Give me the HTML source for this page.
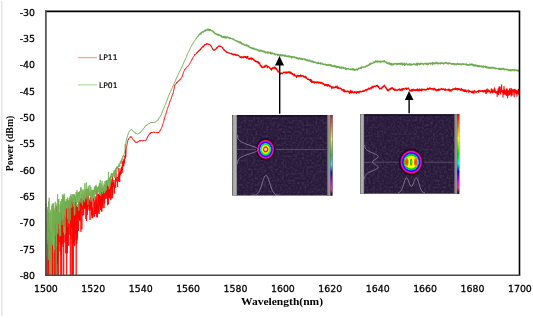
<!DOCTYPE html>
<html><head><meta charset="utf-8"><style>
html,body{margin:0;padding:0;background:#fff;}
svg{display:block;}
.t{font-family:"DejaVu Sans","Liberation Sans",sans-serif;font-size:9.4px;fill:#000;stroke:#000;stroke-width:0.28px;}
.lg{font-family:"DejaVu Sans","Liberation Sans",sans-serif;font-size:7.6px;fill:#000;stroke:#000;stroke-width:0.2px;}
.ti{font-family:"Liberation Serif",serif;font-size:10.5px;font-weight:bold;fill:#000;}
</style></head><body>
<svg width="533" height="318" viewBox="0 0 533 318">
<defs>
<linearGradient id="cb" x1="0" y1="0" x2="0" y2="1">
<stop offset="0" stop-color="#ff0000"/><stop offset="0.15" stop-color="#ff7a00"/><stop offset="0.3" stop-color="#ffff00"/>
<stop offset="0.5" stop-color="#00dd00"/><stop offset="0.62" stop-color="#00ffff"/><stop offset="0.72" stop-color="#0000ff"/>
<stop offset="0.87" stop-color="#ff00ff"/><stop offset="0.92" stop-color="#ff3070"/><stop offset="1" stop-color="#200010"/>
</linearGradient>
<linearGradient id="gb" x1="0" y1="0" x2="1" y2="0">
<stop offset="0" stop-color="#585858"/><stop offset="0.22" stop-color="#a8a8a8"/><stop offset="0.7" stop-color="#b0b2b0"/><stop offset="0.88" stop-color="#8a8a8a"/><stop offset="1" stop-color="#403550"/>
</linearGradient>
<linearGradient id="gb2" x1="0" y1="0" x2="1" y2="0">
<stop offset="0" stop-color="#3a3050"/><stop offset="0.3" stop-color="#8a8a8a"/><stop offset="1" stop-color="#9a9a9a"/>
</linearGradient>
<radialGradient id="sp1" cx="0.5" cy="0.5" r="0.5"><stop offset="0.000" stop-color="#ffffff"/><stop offset="0.078" stop-color="#ffffff"/><stop offset="0.146" stop-color="#ff5050"/><stop offset="0.204" stop-color="#ff2000"/><stop offset="0.262" stop-color="#ffa000"/><stop offset="0.320" stop-color="#ffff00"/><stop offset="0.388" stop-color="#60ff00"/><stop offset="0.456" stop-color="#00e000"/><stop offset="0.495" stop-color="#00e0e0"/><stop offset="0.544" stop-color="#0050ff"/><stop offset="0.602" stop-color="#2000ff"/><stop offset="0.660" stop-color="#b000ff"/><stop offset="0.709" stop-color="#ff00c0"/><stop offset="0.748" stop-color="#ff2080"/><stop offset="0.796" stop-color="#701040"/><stop offset="0.864" stop-color="#1c0a22"/><stop offset="0.932" stop-color="#1e0c28" stop-opacity="0.8"/><stop offset="1.000" stop-color="#28183b" stop-opacity="0"/></radialGradient>
<radialGradient id="sp2" cx="0.5" cy="0.5" r="0.5"><stop offset="0.000" stop-color="#ffff00"/><stop offset="0.369" stop-color="#ffff00"/><stop offset="0.431" stop-color="#c0ff00"/><stop offset="0.477" stop-color="#00e000"/><stop offset="0.538" stop-color="#00d000"/><stop offset="0.569" stop-color="#00c0e0"/><stop offset="0.608" stop-color="#0030ff"/><stop offset="0.662" stop-color="#2000ff"/><stop offset="0.700" stop-color="#a000ff"/><stop offset="0.738" stop-color="#ff00d0"/><stop offset="0.777" stop-color="#ff1080"/><stop offset="0.815" stop-color="#801040"/><stop offset="0.877" stop-color="#1a0820"/><stop offset="0.938" stop-color="#1e0c28" stop-opacity="0.8"/><stop offset="1.000" stop-color="#28183b" stop-opacity="0"/></radialGradient>
<radialGradient id="lobe" cx="0.5" cy="0.5" r="0.5"><stop offset="0" stop-color="#ff3800"/><stop offset="0.45" stop-color="#ff5000"/><stop offset="0.75" stop-color="#ffa000"/><stop offset="1" stop-color="#ffe000" stop-opacity="0"/></radialGradient>
<radialGradient id="ctr" cx="0.5" cy="0.5" r="0.5"><stop offset="0" stop-color="#00ffe0"/><stop offset="0.35" stop-color="#00e080"/><stop offset="0.7" stop-color="#00d000"/><stop offset="1" stop-color="#80e000" stop-opacity="0.3"/></radialGradient>
<filter id="bl" x="-50%" y="-50%" width="200%" height="200%"><feGaussianBlur stdDeviation="0.55"/></filter>
<filter id="nz" x="0" y="0" width="100%" height="100%" color-interpolation-filters="sRGB">
<feTurbulence type="fractalNoise" baseFrequency="0.45" numOctaves="2" seed="4"/>
<feColorMatrix type="matrix" values="0 0 0 0 0.36  0 0 0 0 0.33  0 0 0 0 0.38  1.0 0 0 0 -0.4"/>
</filter>
</defs>
<rect x="1" y="1" width="1.6" height="315" fill="#e6e6e6"/>
<g class="t"><text x="35" y="15.6" text-anchor="end">-30</text><text x="35" y="41.9" text-anchor="end">-35</text><text x="35" y="68.3" text-anchor="end">-40</text><text x="35" y="94.6" text-anchor="end">-45</text><text x="35" y="120.9" text-anchor="end">-50</text><text x="35" y="147.2" text-anchor="end">-55</text><text x="35" y="173.6" text-anchor="end">-60</text><text x="35" y="199.9" text-anchor="end">-65</text><text x="35" y="226.2" text-anchor="end">-70</text><text x="35" y="252.6" text-anchor="end">-75</text><text x="35" y="278.9" text-anchor="end">-80</text><text x="45.9" y="291.5" text-anchor="middle">1500</text><text x="93.3" y="291.5" text-anchor="middle">1520</text><text x="140.7" y="291.5" text-anchor="middle">1540</text><text x="188.1" y="291.5" text-anchor="middle">1560</text><text x="235.5" y="291.5" text-anchor="middle">1580</text><text x="282.9" y="291.5" text-anchor="middle">1600</text><text x="330.3" y="291.5" text-anchor="middle">1620</text><text x="377.7" y="291.5" text-anchor="middle">1640</text><text x="425.1" y="291.5" text-anchor="middle">1660</text><text x="472.5" y="291.5" text-anchor="middle">1680</text><text x="519.9" y="291.5" text-anchor="middle">1700</text></g>
<text class="ti" x="241" y="305.3" textLength="82" lengthAdjust="spacingAndGlyphs">Wavelength(nm)</text>
<text class="ti" transform="translate(12.9,171.2) rotate(-90)" textLength="55.5" lengthAdjust="spacingAndGlyphs">Power (dBm)</text>
<path d="M45.80,275.00 45.94,275.00 46.08,230.90 46.22,227.12 46.36,275.00 46.50,275.00 46.64,275.00 46.78,275.00 46.92,275.00 47.06,227.37 47.20,275.00 47.34,275.00 47.48,275.00 47.62,275.00 47.76,275.00 47.90,222.66 48.04,242.54 48.18,275.00 48.32,275.00 48.46,275.00 48.60,275.00 48.74,212.92 48.88,275.00 49.02,275.00 49.16,228.85 49.30,261.71 49.44,275.00 49.58,262.97 49.72,275.00 49.86,271.04 50.00,265.65 50.14,232.36 50.28,275.00 50.42,258.32 50.56,275.00 50.70,275.00 50.84,275.00 50.98,242.88 51.12,275.00 51.26,240.11 51.40,275.00 51.54,275.00 51.68,275.00 51.82,245.87 51.96,275.00 52.10,275.00 52.24,275.00 52.38,239.84 52.52,275.00 52.66,246.60 52.80,275.00 52.94,275.00 53.08,275.00 53.22,275.00 53.36,275.00 53.50,275.00 53.64,275.00 53.78,275.00 53.92,274.93 54.06,253.07 54.20,259.36 54.34,274.59 54.48,275.00 54.62,275.00 54.76,241.40 54.90,275.00 55.04,211.41 55.18,215.17 55.32,275.00 55.46,275.00 55.60,232.88 55.74,275.00 55.88,225.09 56.02,236.13 56.16,266.85 56.30,206.23 56.44,275.00 56.58,275.00 56.72,275.00 56.86,275.00 57.00,213.35 57.14,275.00 57.28,217.03 57.42,263.58 57.56,245.99 57.70,222.09 57.84,258.49 57.98,234.34 58.12,231.59 58.26,232.97 58.40,275.00 58.54,223.20 58.68,212.53 58.82,227.56 58.96,239.42 59.10,242.12 59.24,229.51 59.38,222.40 59.52,224.41 59.66,228.62 59.80,212.09 59.94,235.85 60.08,251.57 60.22,219.07 60.36,244.46 60.50,231.15 60.64,229.15 60.78,275.00 60.92,233.98 61.06,210.85 61.20,219.25 61.34,234.66 61.48,254.68 61.62,213.88 61.76,275.00 61.90,221.94 62.04,231.64 62.18,226.41 62.32,228.57 62.46,243.62 62.60,216.41 62.74,242.07 62.88,225.89 63.02,247.00 63.16,237.81 63.30,225.66 63.44,222.84 63.58,217.37 63.72,275.00 63.86,234.73 64.00,241.15 64.14,242.44 64.28,207.42 64.42,206.74 64.56,215.44 64.70,224.20 64.84,226.50 64.98,211.69 65.12,203.14 65.26,214.26 65.40,212.39 65.54,209.06 65.68,253.56 65.82,204.08 65.96,241.68 66.10,222.57 66.24,218.70 66.38,236.97 66.52,208.49 66.66,275.00 66.80,244.01 66.94,223.63 67.08,253.57 67.22,226.96 67.36,252.87 67.50,242.80 67.64,230.09 67.78,210.11 67.92,200.86 68.06,224.14 68.20,205.45 68.34,207.25 68.48,245.66 68.62,243.85 68.76,207.39 68.90,215.92 69.04,230.00 69.18,234.80 69.32,215.13 69.46,215.80 69.60,220.47 69.74,204.73 69.88,221.52 70.02,206.17 70.16,197.96 70.30,275.00 70.44,237.96 70.58,207.72 70.72,210.97 70.86,238.95 71.00,220.41 71.14,218.24 71.28,201.16 71.42,209.22 71.56,227.26 71.70,219.91 71.84,198.71 71.98,275.00 72.12,216.42 72.26,275.00 72.40,275.00 72.54,202.34 72.68,209.27 72.82,228.47 72.96,206.34 73.10,217.00 73.24,206.63 73.38,275.00 73.52,223.13 73.66,241.96 73.80,217.54 73.94,242.46 74.08,198.76 74.22,215.07 74.36,223.82 74.50,210.43 74.64,246.16 74.78,203.53 74.92,210.88 75.06,240.42 75.20,197.42 75.34,208.88 75.48,228.58 75.62,233.84 75.76,201.32 75.90,209.99 76.04,214.89 76.18,275.00 76.32,238.60 76.46,202.47 76.60,211.65 76.74,243.74 76.88,223.45 77.02,240.08 77.16,208.78 77.30,207.23 77.44,235.70 77.58,238.23 77.72,207.60 77.86,216.87 78.00,204.79 78.14,204.14 78.28,206.97 78.42,230.95 78.56,213.44 78.70,208.61 78.84,201.63 78.98,204.09 79.12,208.99 79.26,212.12 79.40,219.71 79.54,200.89 79.68,209.82 79.82,220.53 79.96,202.19 80.10,221.31 80.24,198.19 80.38,201.55 80.52,210.45 80.66,206.42 80.80,202.10 80.94,231.87 81.08,203.75 81.22,206.75 81.36,201.97 81.50,197.80 81.64,204.79 81.78,204.15 81.92,229.35 82.06,201.08 82.20,207.29 82.34,199.91 82.48,199.30 82.62,201.81 82.76,215.70 82.90,205.07 83.04,208.13 83.18,209.30 83.32,199.00 83.46,205.95 83.60,201.53 83.74,214.96 83.88,200.40 84.02,206.38 84.16,208.88 84.30,206.34 84.44,207.03 84.58,205.54 84.72,203.31 84.86,205.40 85.00,196.54 85.14,208.57 85.28,200.45 85.42,207.06 85.56,201.43 85.70,200.45 85.84,219.09 85.98,197.97 86.12,209.79 86.26,193.90 86.40,198.76 86.54,221.05 86.68,205.25 86.82,206.40 86.96,209.32 87.10,197.72 87.24,202.70 87.38,214.77 87.52,206.25 87.66,207.08 87.80,196.23 87.94,210.42 88.08,191.85 88.22,198.80 88.36,200.23 88.50,205.65 88.64,197.37 88.78,197.92 88.92,200.94 89.06,207.82 89.20,208.88 89.34,207.76 89.48,207.90 89.62,200.40 89.76,210.73 89.90,205.30 90.04,219.95 90.18,203.20 90.32,198.56 90.46,209.45 90.60,202.86 90.74,196.63 90.88,206.82 91.02,203.81 91.16,203.11 91.30,202.41 91.44,202.34 91.58,200.26 91.72,215.33 91.86,197.61 92.00,218.35 92.14,207.10 92.28,214.18 92.42,217.92 92.56,208.76 92.70,216.00 92.84,211.95 92.98,217.09 93.12,209.19 93.26,201.32 93.40,199.41 93.54,200.93 93.68,197.70 93.82,198.11 93.96,203.39 94.10,214.94 94.24,200.45 94.38,201.14 94.52,216.65 94.66,205.70 94.80,210.01 94.94,203.42 95.08,213.55 95.22,208.77 95.36,213.86 95.50,201.73 95.64,198.21 95.78,196.43 95.92,210.09 96.06,210.78 96.20,206.92 96.34,198.78 96.48,213.17 96.62,211.12 96.76,216.89 96.90,188.92 97.04,210.69 97.18,203.62 97.32,217.47 97.46,206.36 97.60,204.53 97.74,212.82 97.88,196.65 98.02,193.59 98.16,203.09 98.30,213.24 98.44,194.82 98.58,197.82 98.72,203.15 98.86,194.23 99.00,196.29 99.14,213.89 99.28,194.56 99.42,206.11 99.56,196.54 99.70,188.69 99.84,199.01 99.98,199.15 100.12,203.28 100.26,199.07 100.40,193.47 100.54,210.10 100.68,198.32 100.82,194.90 100.96,198.55 101.10,208.95 101.24,197.07 101.38,189.53 101.52,211.46 101.66,194.53 101.80,211.54 101.94,202.52 102.08,206.84 102.22,188.28 102.36,204.65 102.50,198.51 102.64,198.88 102.78,188.91 102.92,208.14 103.06,191.10 103.20,198.88 103.34,201.25 103.48,199.53 103.62,197.31 103.76,190.71 103.90,193.87 104.04,208.20 104.18,190.28 104.32,191.08 104.46,203.26 104.60,203.09 104.74,202.87 104.88,194.23 105.02,198.34 105.16,197.55 105.30,198.76 105.44,194.08 105.58,194.18 105.72,188.88 105.86,193.21 106.00,189.85 106.14,196.28 106.28,190.47 106.42,198.35 106.56,194.26 106.70,184.81 106.84,192.55 106.98,197.61 107.12,192.97 107.26,198.34 107.40,194.39 107.54,205.23 107.68,183.51 107.82,198.87 107.96,189.25 108.10,187.16 108.24,188.18 108.38,192.31 108.52,204.29 108.66,192.23 108.80,185.94 108.94,186.46 109.08,192.21 109.22,193.46 109.36,189.51 109.50,197.59 109.64,189.24 109.78,192.36 109.92,194.32 110.06,197.98 110.20,198.72 110.34,182.31 110.48,183.77 110.62,187.26 110.76,200.18 110.90,186.22 111.04,194.55 111.18,198.39 111.32,185.20 111.46,184.58 111.60,188.48 111.74,179.31 111.88,187.49 112.02,188.71 112.16,182.76 112.30,198.18 112.44,176.53 112.58,182.53 112.72,194.70 112.86,186.31 113.00,187.30 113.14,182.87 113.28,186.55 113.42,185.41 113.56,182.64 113.70,185.97 113.84,184.71 113.98,179.94 114.12,186.36 114.26,185.21 114.40,193.50 114.54,185.89 114.68,185.71 114.82,186.45 114.96,184.61 115.10,185.55 115.24,181.86 115.38,182.44 115.52,178.06 115.66,187.90 115.80,182.30 115.94,172.19 116.08,176.27 116.22,180.65 116.36,180.91 116.50,181.36 116.64,179.17 116.78,180.33 116.92,178.80 117.06,176.99 117.20,178.10 117.34,178.12 117.48,179.25 117.62,187.05 117.76,178.62 117.90,177.13 118.04,178.01 118.18,175.49 118.32,174.49 118.46,176.36 118.60,178.88 118.74,181.48 118.88,168.09 119.02,172.94 119.16,175.19 119.30,181.30 119.44,172.98 119.58,173.28 119.72,181.99 119.86,171.36 120.00,171.83 120.14,175.40 120.28,172.15 120.42,174.29 120.56,170.58 120.70,172.08 120.84,170.55 120.98,168.57 121.12,170.24 121.26,173.83 121.40,167.34 121.54,170.79 121.68,166.79 121.82,171.47 121.96,167.80 122.10,172.91 122.24,164.71 122.38,165.83 122.52,169.59 122.66,163.42 122.80,160.71 122.94,166.31 123.08,162.55 123.22,163.58 123.36,163.93 123.50,165.14 123.64,160.63 123.78,166.34 123.92,159.54 124.06,160.48 124.20,158.73 124.34,160.97 124.48,163.16 124.62,159.41 124.76,155.97 124.90,156.42 125.04,157.19 125.18,155.41 125.32,158.60 125.46,152.82 125.60,148.45 125.74,157.00 125.88,153.77" fill="none" stroke="#ff0000" stroke-width="0.8" stroke-linejoin="round"/>
<path d="M125.88,153.77 126.00,149.20 126.20,148.72 126.40,147.43 126.60,146.43 126.80,145.92 127.00,144.47 127.20,143.59 127.40,142.79 127.60,141.93 127.80,140.83 128.00,140.25 128.20,139.50 128.40,139.76 128.60,139.14 128.80,138.36 129.00,138.32 129.20,138.19 129.40,137.86 129.60,137.95 129.80,137.62 130.00,136.96 130.20,136.93 130.40,136.54 130.60,136.87 130.80,136.85 131.00,137.57 131.20,137.06 131.40,136.72 131.60,137.33 131.80,137.81 132.00,137.77 132.20,138.18 132.40,138.62 132.60,139.09 132.80,139.23 133.00,139.28 133.20,139.91 133.40,139.81 133.60,140.05 133.80,140.07 134.00,140.46 134.20,141.06 134.40,140.73 134.60,141.34 134.80,141.75 135.00,141.68 135.20,142.01 135.40,141.82 135.60,142.55 135.80,142.60 136.00,142.44 136.20,141.96 136.40,142.13 136.60,142.61 136.80,142.75 137.00,142.34 137.20,142.50 137.40,141.96 137.60,141.97 137.80,141.92 138.00,141.92 138.20,141.32 138.40,141.82 138.60,141.80 138.80,141.07 139.00,140.91 139.20,141.22 139.40,140.87 139.60,140.34 139.80,141.05 140.00,140.81 140.20,140.59 140.40,141.19 140.60,140.66 140.80,140.41 141.00,140.63 141.20,140.34 141.40,140.42 141.60,140.71 141.80,140.48 142.00,140.51 142.20,141.05 142.40,140.86 142.60,140.86 142.80,140.80 143.00,140.81 143.20,141.06 143.40,140.70 143.60,141.19 143.80,140.50 144.00,140.68 144.20,140.41 144.40,140.68 144.60,140.91 144.80,141.15 145.00,140.63 145.20,140.80 145.40,140.71 145.60,140.62 145.80,140.43 146.00,140.54 146.20,139.79 146.40,139.85 146.60,139.37 146.80,138.69 147.00,138.07 147.20,137.44 147.40,137.73 147.60,136.44 147.80,136.74 148.00,136.15 148.20,135.61 148.40,135.11 148.60,135.36 148.80,135.25 149.00,134.31 149.20,134.20 149.40,134.30 149.60,133.89 149.80,134.10 150.00,133.28 150.20,133.40 150.40,132.83 150.60,133.54 150.80,132.71 151.00,132.23 151.20,132.64 151.40,132.53 151.60,132.94 151.80,132.29 152.00,132.29 152.20,132.38 152.40,132.57 152.60,132.12 152.80,132.37 153.00,132.23 153.20,132.03 153.40,132.13 153.60,132.14 153.80,131.92 154.00,132.49 154.20,131.87 154.40,132.54 154.60,132.53 154.80,132.31 155.00,132.18 155.20,132.36 155.40,132.58 155.60,132.69 155.80,132.62 156.00,132.84 156.20,132.49 156.40,132.73 156.60,132.31 156.80,132.92 157.00,132.80 157.20,132.67 157.40,133.08 157.60,132.97 157.80,132.09 158.00,132.76 158.20,132.31 158.40,132.83 158.60,133.04 158.80,132.11 159.00,132.05 159.20,131.74 159.40,131.64 159.60,131.45 159.80,131.33 160.00,130.46 160.20,130.80 160.40,129.86 160.60,129.85 160.80,129.75 161.00,129.31 161.20,128.53 161.40,128.16 161.60,127.76 161.80,127.35 162.00,127.10 162.20,125.90 162.40,125.73 162.60,125.12 162.80,124.45 163.00,123.75 163.20,123.32 163.40,122.37 163.60,121.76 163.80,120.99 164.00,120.60 164.20,118.99 164.40,119.11 164.60,118.07 164.80,117.43 165.00,116.63 165.20,115.77 165.40,115.51 165.60,114.78 165.80,114.43 166.00,113.29 166.20,113.36 166.40,112.42 166.60,111.64 166.80,110.87 167.00,110.21 167.20,109.49 167.40,109.00 167.60,108.52 167.80,107.86 168.00,106.95 168.20,106.64 168.40,105.90 168.60,105.59 168.80,105.45 169.00,104.58 169.20,103.79 169.40,102.91 169.60,102.41 169.80,101.80 170.00,101.85 170.20,100.93 170.40,100.58 170.60,99.86 170.80,99.47 171.00,99.24 171.20,98.15 171.40,97.68 171.60,97.02 171.80,96.91 172.00,95.90 172.20,95.33 172.40,94.72 172.60,94.15 172.80,94.04 173.00,93.95 173.20,92.40 173.40,92.20 173.60,91.26 173.80,89.96 174.00,89.07 174.20,87.96 174.40,86.79 174.60,86.58 174.80,85.02 175.00,85.19 175.20,84.82 175.40,84.25 175.60,84.13 175.80,84.04 176.00,83.60 176.20,83.43 176.40,83.28 176.60,82.40 176.80,83.08 177.00,83.09 177.20,82.59 177.40,82.42 177.60,81.64 177.80,81.77 178.00,81.41 178.20,81.27 178.40,81.44 178.60,80.78 178.80,80.75 179.00,80.12 179.20,80.37 179.40,80.25 179.60,79.87 179.80,79.68 180.00,80.15 180.20,79.18 180.40,79.02 180.60,78.86 180.80,79.13 181.00,79.10 181.20,78.38 181.40,77.80 181.60,77.50 181.80,77.45 182.00,76.48 182.20,76.57 182.40,76.02 182.60,75.13 182.80,74.71 183.00,74.15 183.20,73.78 183.40,72.56 183.60,72.56 183.80,71.64 184.00,71.04 184.20,70.79 184.40,70.28 184.60,69.72 184.80,69.25 185.00,69.12 185.20,69.44 185.40,69.31 185.60,68.74 185.80,68.64 186.00,67.99 186.20,67.89 186.40,67.78 186.60,67.24 186.80,67.07 187.00,67.15 187.20,66.85 187.40,66.47 187.60,66.64 187.80,66.27 188.00,66.38 188.20,65.90 188.40,65.60 188.60,65.46 188.80,65.13 189.00,64.73 189.20,64.50 189.40,64.48 189.60,64.11 189.80,63.92 190.00,62.81 190.20,62.75 190.40,62.36 190.60,62.11 190.80,61.56 191.00,61.14 191.20,61.07 191.40,60.53 191.60,59.80 191.80,60.05 192.00,59.60 192.20,58.85 192.40,58.87 192.60,58.16 192.80,58.31 193.00,57.66 193.20,57.21 193.40,57.02 193.60,56.62 193.80,56.56 194.00,56.27 194.20,55.95 194.40,55.52 194.60,54.47 194.80,55.13 195.00,54.37 195.20,54.65 195.40,54.62 195.60,54.16 195.80,53.75" fill="none" stroke="#ff0000" stroke-width="0.95" stroke-linejoin="round"/>
<path d="M195.80,53.75 196.00,53.57 196.20,53.35 196.40,53.03 196.60,52.82 196.80,52.53 197.00,52.86 197.20,52.37 197.40,52.43 197.60,51.94 197.80,51.84 198.00,51.60 198.20,51.58 198.40,51.48 198.60,51.15 198.80,50.73 199.00,50.51 199.20,50.92 199.40,50.23 199.60,50.02 199.80,50.25 200.00,49.94 200.20,49.59 200.40,49.15 200.60,49.62 200.80,48.92 201.00,48.74 201.20,48.35 201.40,47.83 201.60,47.65 201.80,47.88 202.00,47.68 202.20,47.32 202.40,46.90 202.60,46.64 202.80,46.74 203.00,46.28 203.20,46.71 203.40,46.61 203.60,46.86 203.80,46.20 204.00,45.65 204.20,45.40 204.40,44.57 204.60,45.10 204.80,45.03 205.00,45.15 205.20,44.89 205.40,44.73 205.60,44.49 205.80,44.47 206.00,44.55 206.20,43.83 206.40,43.90 206.60,43.60 206.80,44.32 207.00,44.22 207.20,44.09 207.40,43.62 207.60,43.98 207.80,43.91 208.00,44.03 208.20,44.01 208.40,44.24 208.60,44.06 208.80,44.44 209.00,44.35 209.20,44.28 209.40,44.40 209.60,44.39 209.80,44.81 210.00,44.69 210.20,45.03 210.40,45.10 210.60,45.10 210.80,46.00 211.00,45.84 211.20,46.62 211.40,46.92 211.60,46.77 211.80,47.32 212.00,47.79 212.20,48.07 212.40,48.33 212.60,49.13 212.80,49.19 213.00,49.61 213.20,49.64 213.40,50.01 213.60,49.89 213.80,50.16 214.00,50.35 214.20,50.19 214.40,50.00 214.60,49.74 214.80,49.92 215.00,49.81 215.20,49.48 215.40,49.16 215.60,49.29 215.80,49.57 216.00,48.67 216.20,48.64 216.40,48.48 216.60,47.58 216.80,48.07 217.00,47.67 217.20,47.99 217.40,47.37 217.60,47.03 217.80,46.95 218.00,46.84 218.20,46.46 218.40,46.40 218.60,45.90 218.80,46.04 219.00,46.17 219.20,46.37 219.40,46.00 219.60,45.87 219.80,46.11 220.00,46.12 220.20,46.37 220.40,46.33 220.60,46.16 220.80,46.41 221.00,46.56 221.20,46.77 221.40,46.94 221.60,46.90 221.80,46.78 222.00,47.34 222.20,47.21 222.40,47.94 222.60,48.12 222.80,47.88 223.00,48.66 223.20,48.90 223.40,48.92 223.60,49.54 223.80,49.83 224.00,49.30 224.20,50.10 224.40,50.19 224.60,50.43 224.80,50.80 225.00,50.62 225.20,50.87 225.40,51.03 225.60,51.24 225.80,51.59 226.00,51.42 226.20,51.66 226.40,52.19 226.60,52.13 226.80,52.33 227.00,51.85 227.20,52.20 227.40,52.33 227.60,52.55 227.80,52.45 228.00,52.89 228.20,52.70 228.40,52.78 228.60,52.83 228.80,53.05 229.00,52.81 229.20,53.26 229.40,53.15 229.60,53.13 229.80,53.16 230.00,53.33 230.20,53.52 230.40,53.57 230.60,53.50 230.80,53.70 231.00,53.58 231.20,53.94 231.40,53.70 231.60,53.27 231.80,54.20 232.00,53.97 232.20,53.73 232.40,54.05 232.60,53.95 232.80,54.77 233.00,54.44 233.20,53.99 233.40,54.58 233.60,54.40 233.80,55.03 234.00,54.34 234.20,54.08 234.40,54.69 234.60,54.62 234.80,54.63 235.00,54.23 235.20,54.89 235.40,55.23 235.60,54.35 235.80,55.14 236.00,54.73 236.20,55.48 236.40,55.03 236.60,54.90 236.80,55.25 237.00,55.13 237.20,54.89 237.40,55.25 237.60,54.99 237.80,54.73 238.00,55.74 238.20,55.27 238.40,55.38 238.60,55.82 238.80,55.58 239.00,55.87 239.20,56.33 239.40,56.54 239.60,56.88 239.80,57.29 240.00,56.84 240.20,57.43 240.40,57.54 240.60,56.66 240.80,57.42 241.00,56.81 241.20,57.94 241.40,57.63 241.60,57.40 241.80,56.66 242.00,57.46 242.20,56.95 242.40,57.73 242.60,57.24 242.80,56.81 243.00,57.71 243.20,57.54 243.40,56.75 243.60,57.66 243.80,56.79 244.00,56.72 244.20,56.89 244.40,56.36 244.60,56.48 244.80,56.59 245.00,57.48 245.20,57.44 245.40,56.46 245.60,57.49 245.80,56.61 246.00,56.90 246.20,57.25 246.40,57.02 246.60,58.30 246.80,57.23 247.00,56.57 247.20,58.10 247.40,57.30 247.60,57.51 247.80,56.18 248.00,58.52 248.20,58.56 248.40,58.67 248.60,58.89 248.80,59.38 249.00,58.50 249.20,59.10 249.40,58.21 249.60,58.45 249.80,59.25 250.00,58.90 250.20,57.97 250.40,58.91 250.60,58.63 250.80,58.29 251.00,58.99 251.20,58.54 251.40,57.91 251.60,58.18 251.80,59.78 252.00,58.00 252.20,58.98 252.40,59.22 252.60,59.27 252.80,58.32 253.00,58.92 253.20,59.31 253.40,59.83 253.60,59.21 253.80,59.11 254.00,60.51 254.20,60.77 254.40,60.57 254.60,60.24 254.80,61.00 255.00,61.02 255.20,61.59 255.40,60.59 255.60,61.46 255.80,61.42 256.00,60.99 256.20,61.80 256.40,61.78 256.60,61.60 256.80,62.11 257.00,61.18 257.20,62.00 257.40,62.33 257.60,62.32 257.80,62.82 258.00,61.65 258.20,61.56 258.40,62.62 258.60,62.84 258.80,63.87 259.00,63.18 259.20,62.55 259.40,63.70 259.60,63.06 259.80,62.99 260.00,65.55 260.20,64.62 260.40,65.16 260.60,65.40 260.80,66.42 261.00,65.89 261.20,66.70 261.40,65.74 261.60,65.78 261.80,67.54 262.00,67.73 262.20,67.31 262.40,67.22 262.60,67.19 262.80,66.70 263.00,67.88 263.20,67.35 263.40,67.19 263.60,67.04 263.80,67.32 264.00,66.93 264.20,66.96 264.40,65.81 264.60,66.63 264.80,67.45 265.00,65.87 265.20,65.99 265.40,66.47 265.60,66.44 265.80,66.21 266.00,64.93 266.20,66.08 266.40,65.15 266.60,65.38 266.80,66.19 267.00,65.81 267.20,66.52 267.40,67.93 267.60,66.76 267.80,66.89 268.00,66.17 268.20,66.48 268.40,66.43 268.60,66.92 268.80,66.80 269.00,67.23 269.20,67.67 269.40,67.41 269.60,67.36 269.80,67.56 270.00,68.71 270.20,68.64 270.40,69.29 270.60,69.40 270.80,68.72 271.00,69.34 271.20,68.20 271.40,70.25 271.60,69.62 271.80,68.78 272.00,68.18 272.20,68.92 272.40,67.56 272.60,68.03 272.80,68.73 273.00,68.22 273.20,67.77 273.40,68.43 273.60,67.22 273.80,67.84 274.00,67.32 274.20,67.07 274.40,67.76 274.60,66.96 274.80,68.60 275.00,67.32 275.20,68.86 275.40,67.33 275.60,68.45 275.80,67.68 276.00,67.84 276.20,68.92 276.40,69.47 276.60,68.68 276.80,70.31 277.00,69.50 277.20,70.29 277.40,70.70 277.60,71.08 277.80,70.00 278.00,72.11 278.20,71.72 278.40,71.35 278.60,71.20 278.80,71.02 279.00,71.39 279.20,72.63 279.40,72.33 279.60,72.08 279.80,72.59 280.00,73.91 280.20,73.02 280.40,73.02 280.60,74.21 280.80,73.82 281.00,73.66 281.20,73.35 281.40,72.85 281.60,73.05 281.80,73.40 282.00,73.50 282.20,73.76 282.40,73.81 282.60,73.55 282.80,73.47 283.00,72.71 283.20,71.99 283.40,72.80 283.60,72.48 283.80,72.56 284.00,72.69 284.20,72.09 284.40,72.11 284.60,72.62 284.80,72.70 285.00,72.23 285.20,72.82 285.40,72.38 285.60,71.90 285.80,72.44 286.00,73.41 286.20,71.96 286.40,72.94 286.60,73.02 286.80,73.05 287.00,71.75 287.20,73.28 287.40,72.21 287.60,71.99 287.80,71.99 288.00,72.44 288.20,72.13 288.40,72.00 288.60,72.82 288.80,71.75 289.00,71.61 289.20,72.67 289.40,72.68 289.60,72.96 289.80,71.85 290.00,73.12 290.20,72.88 290.40,73.68 290.60,72.12 290.80,73.03 291.00,72.87 291.20,72.25 291.40,72.84 291.60,73.96 291.80,73.19 292.00,73.15 292.20,74.13 292.40,74.31 292.60,74.45 292.80,73.62 293.00,74.18 293.20,74.95 293.40,74.20 293.60,74.33 293.80,75.37 294.00,75.96 294.20,74.64 294.40,74.01 294.60,74.80 294.80,75.18 295.00,75.79 295.20,76.32 295.40,75.99 295.60,75.76 295.80,76.27 296.00,75.67 296.20,76.17 296.40,75.84 296.60,77.66 296.80,76.63 297.00,75.71 297.20,75.61 297.40,75.91 297.60,75.23 297.80,75.72 298.00,75.70 298.20,76.57 298.40,75.84 298.60,75.62 298.80,75.30 299.00,75.37 299.20,75.96 299.40,75.86 299.60,76.58 299.80,75.59 300.00,76.50 300.20,76.05 300.40,75.88 300.60,74.77 300.80,75.15 301.00,76.25 301.20,76.60 301.40,75.94 301.60,76.23 301.80,75.58 302.00,75.60 302.20,75.44 302.40,76.34 302.60,76.01 302.80,75.73 303.00,75.73 303.20,76.28 303.40,76.23 303.60,75.69 303.80,77.19 304.00,76.50 304.20,76.48 304.40,77.41 304.60,77.29 304.80,76.81 305.00,77.29 305.20,76.54 305.40,76.91 305.60,76.15 305.80,78.19 306.00,76.60 306.20,78.13 306.40,77.42 306.60,77.47 306.80,78.03 307.00,78.42 307.20,78.75 307.40,79.54 307.60,78.90 307.80,79.34 308.00,78.67 308.20,79.54 308.40,79.38 308.60,79.18 308.80,79.52 309.00,79.68 309.20,79.95 309.40,80.19 309.60,79.81 309.80,79.79 310.00,80.72 310.20,79.49 310.40,80.20 310.60,81.52 310.80,79.29 311.00,80.52 311.20,81.41 311.40,80.24 311.60,82.70 311.80,79.96 312.00,82.29 312.20,82.47 312.40,82.23 312.60,81.71 312.80,82.13 313.00,81.53 313.20,82.56 313.40,81.57 313.60,82.11 313.80,82.87 314.00,81.77 314.20,82.23 314.40,82.55 314.60,81.75 314.80,83.14 315.00,82.69 315.20,81.66 315.40,82.45 315.60,82.04 315.80,82.08 316.00,82.46 316.20,82.00 316.40,82.89 316.60,81.94 316.80,82.83 317.00,82.24 317.20,82.70 317.40,81.90 317.60,81.89 317.80,81.51 318.00,82.45 318.20,82.63 318.40,83.27 318.60,82.81 318.80,82.24 319.00,82.01 319.20,82.37 319.40,82.19 319.60,83.06 319.80,82.84 320.00,81.93 320.20,82.09 320.40,83.30 320.60,82.81 320.80,82.61 321.00,83.49 321.20,82.73 321.40,82.90 321.60,82.91 321.80,82.19 322.00,83.86 322.20,82.83 322.40,83.29 322.60,83.30 322.80,84.21 323.00,83.87 323.20,84.01 323.40,83.16 323.60,84.11 323.80,83.42 324.00,84.47 324.20,84.57 324.40,84.43 324.60,85.63 324.80,84.86 325.00,84.95 325.20,84.76 325.40,84.64 325.60,85.34 325.80,85.47 326.00,84.20 326.20,85.56 326.40,85.32 326.60,85.62 326.80,85.41 327.00,84.53 327.20,84.63 327.40,86.34 327.60,85.54 327.80,84.69 328.00,85.73 328.20,85.41 328.40,84.67 328.60,84.50 328.80,84.96 329.00,86.08 329.20,86.01 329.40,86.02 329.60,86.43 329.80,86.73 330.00,85.38 330.20,86.51 330.40,86.35 330.60,86.26 330.80,86.76 331.00,87.12 331.20,87.15 331.40,86.60 331.60,87.23 331.80,88.68 332.00,87.05 332.20,86.75 332.40,87.85 332.60,88.03 332.80,87.94 333.00,87.06 333.20,88.20 333.40,87.18 333.60,86.95 333.80,87.20 334.00,87.43 334.20,87.84 334.40,87.74 334.60,87.34 334.80,87.82 335.00,87.31 335.20,87.71 335.40,86.41 335.60,86.29 335.80,87.56 336.00,86.35 336.20,86.94 336.40,87.05 336.60,86.85 336.80,86.89 337.00,87.94 337.20,85.83 337.40,87.76 337.60,88.59 337.80,87.41 338.00,87.47 338.20,87.96 338.40,88.65 338.60,87.08 338.80,87.87 339.00,87.82 339.20,88.32 339.40,88.20 339.60,88.57 339.80,88.07 340.00,88.43 340.20,88.13 340.40,88.25 340.60,88.67 340.80,88.81 341.00,88.39 341.20,90.04 341.40,89.26 341.60,88.71 341.80,90.22 342.00,89.33 342.20,90.14 342.40,89.95 342.60,90.18 342.80,90.21 343.00,89.88 343.20,90.29 343.40,91.46 343.60,89.18 343.80,90.51 344.00,90.78 344.20,90.02 344.40,89.91 344.60,91.91 344.80,90.58 345.00,91.98 345.20,91.18 345.40,90.98 345.60,91.25 345.80,91.39 346.00,91.74 346.20,91.38 346.40,91.26 346.60,91.32 346.80,92.01 347.00,91.76 347.20,90.80 347.40,91.04 347.60,91.61 347.80,91.12 348.00,91.29 348.20,91.01 348.40,91.43 348.60,91.84 348.80,92.19 349.00,91.69 349.20,92.86 349.40,91.72 349.60,93.55 349.80,92.38 350.00,92.14 350.20,91.63 350.40,90.38 350.60,91.89 350.80,92.10 351.00,93.09 351.20,91.31 351.40,93.14 351.60,91.98 351.80,92.55 352.00,90.78 352.20,92.27 352.40,92.03 352.60,92.61 352.80,92.30 353.00,91.64 353.20,92.80 353.40,92.67 353.60,92.62 353.80,92.85 354.00,92.91 354.20,92.29 354.40,91.55 354.60,91.53 354.80,93.03 355.00,92.67 355.20,92.33 355.40,92.02 355.60,92.27 355.80,92.25 356.00,92.04 356.20,91.82 356.40,93.38 356.60,92.30 356.80,91.82 357.00,91.42 357.20,91.71 357.40,92.48 357.60,92.48 357.80,91.92 358.00,92.05 358.20,91.83 358.40,91.36 358.60,92.66 358.80,92.12 359.00,93.25 359.20,91.44 359.40,91.76 359.60,92.29 359.80,91.64 360.00,90.98 360.20,91.19 360.40,91.74 360.60,91.84 360.80,91.56 361.00,92.13 361.20,92.08 361.40,91.66 361.60,91.45 361.80,91.24 362.00,91.63 362.20,91.77 362.40,91.24 362.60,91.39 362.80,90.90 363.00,90.24 363.20,90.40 363.40,91.30 363.60,91.05 363.80,91.61 364.00,90.70 364.20,91.07 364.40,91.25 364.60,91.00 364.80,90.04 365.00,90.21 365.20,90.31 365.40,89.62 365.60,90.35 365.80,90.58 366.00,89.67 366.20,90.94 366.40,89.62 366.60,89.58 366.80,89.48 367.00,89.14 367.20,89.67 367.40,89.36 367.60,90.18 367.80,89.51 368.00,89.38 368.20,88.87 368.40,88.13 368.60,88.76 368.80,88.25 369.00,89.15 369.20,88.52 369.40,89.36 369.60,88.76 369.80,88.73 370.00,88.30 370.20,88.20 370.40,88.36 370.60,88.42 370.80,87.42 371.00,87.98 371.20,89.04 371.40,87.44 371.60,87.24 371.80,86.88 372.00,86.35 372.20,87.68 372.40,86.95 372.60,86.96 372.80,87.70 373.00,87.95 373.20,85.98 373.40,86.95 373.60,86.61 373.80,86.40 374.00,86.36 374.20,86.01 374.40,86.83 374.60,86.24 374.80,86.05 375.00,86.51 375.20,86.30 375.40,86.05 375.60,85.99 375.80,86.79 376.00,86.13 376.20,85.83 376.40,85.45 376.60,85.78 376.80,85.44 377.00,86.14 377.20,86.29 377.40,85.09 377.60,86.30 377.80,86.72 378.00,86.54 378.20,86.07 378.40,87.49 378.60,86.66 378.80,86.64 379.00,87.01 379.20,87.89 379.40,88.72 379.60,89.08 379.80,88.78 380.00,88.19 380.20,88.60 380.40,88.51 380.60,88.88 380.80,87.93 381.00,88.85 381.20,88.99 381.40,88.37 381.60,88.50 381.80,87.50 382.00,86.98 382.20,87.18 382.40,87.91 382.60,87.59 382.80,86.53 383.00,87.22 383.20,86.17 383.40,87.00 383.60,86.28 383.80,85.65 384.00,86.26 384.20,85.37 384.40,85.32 384.60,85.14 384.80,86.24 385.00,86.27 385.20,86.51 385.40,86.61 385.60,87.94 385.80,87.25 386.00,87.43 386.20,88.86 386.40,89.30 386.60,89.03 386.80,88.20 387.00,89.12 387.20,90.03 387.40,89.92 387.60,90.92 387.80,89.41 388.00,90.57 388.20,89.84 388.40,90.87 388.60,90.02 388.80,90.54 389.00,89.50 389.20,88.95 389.40,88.98 389.60,89.11 389.80,88.72 390.00,89.79 390.20,89.72 390.40,88.99 390.60,88.14 390.80,88.52 391.00,88.10 391.20,89.19 391.40,88.51 391.60,88.57 391.80,88.08 392.00,87.22 392.20,87.96 392.40,87.84 392.60,88.74 392.80,88.70 393.00,88.32 393.20,88.67 393.40,89.88 393.60,88.62 393.80,88.78 394.00,89.29 394.20,89.15 394.40,89.42 394.60,90.05 394.80,90.80 395.00,88.94 395.20,89.96 395.40,90.02 395.60,89.95 395.80,89.90 396.00,89.81 396.20,90.54 396.40,89.73 396.60,89.90 396.80,89.96 397.00,90.01 397.20,89.85 397.40,90.47 397.60,89.91 397.80,89.99 398.00,89.85 398.20,89.31 398.40,89.38 398.60,89.24 398.80,89.90 399.00,89.38 399.20,89.17 399.40,89.86 399.60,90.00 399.80,88.72 400.00,90.59 400.20,89.65 400.40,89.55 400.60,90.17 400.80,89.59 401.00,89.19 401.20,90.68 401.40,88.84 401.60,89.33 401.80,89.80 402.00,88.69 402.20,89.16 402.40,89.37 402.60,90.42 402.80,88.56 403.00,88.96 403.20,89.30 403.40,88.93 403.60,88.17 403.80,89.02 404.00,88.81 404.20,88.96 404.40,89.31 404.60,89.21 404.80,88.85 405.00,88.77 405.20,87.96 405.40,88.46 405.60,88.63 405.80,88.26 406.00,88.51 406.20,87.98 406.40,89.25 406.60,89.57 406.80,88.15 407.00,88.57 407.20,88.20 407.40,89.01 407.60,88.55 407.80,88.35 408.00,88.18 408.20,88.38 408.40,87.85 408.60,88.93 408.80,88.39 409.00,89.33 409.20,89.40 409.40,90.23 409.60,89.91 409.80,90.76 410.00,89.93 410.20,90.96 410.40,90.63 410.60,90.91 410.80,90.83 411.00,91.28 411.20,89.62 411.40,90.85 411.60,89.79 411.80,91.21 412.00,89.38 412.20,89.84 412.40,89.39 412.60,91.13 412.80,89.45 413.00,90.15 413.20,89.73 413.40,88.98 413.60,89.75 413.80,90.27 414.00,89.80 414.20,90.42 414.40,89.70 414.60,89.91 414.80,89.69 415.00,90.10 415.20,90.96 415.40,90.12 415.60,90.03 415.80,89.58 416.00,89.51 416.20,90.74 416.40,89.33 416.60,89.44 416.80,89.90 417.00,89.72 417.20,91.04 417.40,88.67 417.60,90.17 417.80,90.37 418.00,89.37 418.20,89.63 418.40,90.23 418.60,90.89 418.80,89.49 419.00,89.13 419.20,90.53 419.40,90.84 419.60,89.82 419.80,88.78 420.00,90.79 420.20,89.87 420.40,90.59 420.60,89.94 420.80,89.74 421.00,89.68 421.20,90.72 421.40,90.68 421.60,88.69 421.80,89.33 422.00,90.80 422.20,89.60 422.40,89.02 422.60,89.75 422.80,89.66 423.00,89.64 423.20,89.41 423.40,89.47 423.60,89.37 423.80,89.78 424.00,89.12 424.20,89.38 424.40,89.44 424.60,90.22 424.80,89.68 425.00,89.40 425.20,89.73 425.40,89.63 425.60,89.98 425.80,89.63 426.00,90.31 426.20,90.03 426.40,89.24 426.60,89.01 426.80,89.69 427.00,89.46 427.20,89.10 427.40,88.31 427.60,88.08 427.80,89.25 428.00,89.46 428.20,89.45 428.40,88.27 428.60,89.53 428.80,88.64 429.00,89.12 429.20,89.12 429.40,88.43 429.60,88.53 429.80,87.70 430.00,88.32 430.20,87.83 430.40,89.05 430.60,88.84 430.80,89.30 431.00,89.00 431.20,88.46 431.40,89.01 431.60,88.63 431.80,89.21 432.00,89.08 432.20,88.40 432.40,88.99 432.60,89.06 432.80,88.91 433.00,89.63 433.20,90.14 433.40,89.05 433.60,89.12 433.80,88.14 434.00,89.36 434.20,89.26 434.40,88.37 434.60,89.78 434.80,90.00 435.00,89.33 435.20,89.59 435.40,89.31 435.60,90.31 435.80,89.10 436.00,89.80 436.20,91.09 436.40,90.07 436.60,90.32 436.80,90.00 437.00,89.45 437.20,90.08 437.40,90.32 437.60,89.52 437.80,90.26 438.00,90.73 438.20,90.61 438.40,89.11 438.60,89.41 438.80,89.02 439.00,90.45 439.20,90.15 439.40,90.16 439.60,89.24 439.80,89.03 440.00,89.67 440.20,89.64 440.40,89.07 440.60,89.57 440.80,89.81 441.00,89.54 441.20,88.81 441.40,88.19 441.60,89.19 441.80,89.40 442.00,89.16 442.20,89.06 442.40,88.92 442.60,89.70 442.80,89.28 443.00,89.39 443.20,88.80 443.40,89.01 443.60,89.45 443.80,88.83 444.00,88.71 444.20,89.24 444.40,90.11 444.60,89.57 444.80,90.30 445.00,89.45 445.20,89.38 445.40,88.81 445.60,89.28 445.80,90.42 446.00,89.84 446.20,90.09 446.40,90.10 446.60,89.73 446.80,89.65 447.00,89.86 447.20,90.19 447.40,90.09 447.60,90.14 447.80,89.97 448.00,89.48 448.20,89.78 448.40,89.43 448.60,90.51 448.80,88.82 449.00,89.86 449.20,91.30 449.40,89.81 449.60,89.38 449.80,89.99 450.00,90.70 450.20,89.90 450.40,90.31 450.60,90.02 450.80,89.74 451.00,91.65 451.20,89.94 451.40,89.58 451.60,89.57 451.80,90.02 452.00,90.01 452.20,90.17 452.40,89.79 452.60,88.89 452.80,89.93 453.00,89.43 453.20,89.40 453.40,88.70 453.60,89.16 453.80,89.04 454.00,89.38 454.20,88.56 454.40,89.35 454.60,89.36 454.80,88.64 455.00,88.88 455.20,88.72 455.40,89.66 455.60,87.74 455.80,88.91 456.00,88.16 456.20,88.82 456.40,89.50 456.60,88.68 456.80,89.09 457.00,88.54 457.20,90.07 457.40,89.50 457.60,89.63 457.80,88.29 458.00,88.43 458.20,89.65 458.40,88.98 458.60,88.98 458.80,89.34 459.00,88.50 459.20,89.66 459.40,89.29 459.60,89.59 459.80,89.01 460.00,89.71 460.20,89.09 460.40,90.06 460.60,90.21 460.80,90.14 461.00,89.97 461.20,90.09 461.40,88.31 461.60,90.30 461.80,89.74 462.00,89.99 462.20,89.82 462.40,89.25 462.60,89.76 462.80,90.46 463.00,90.92 463.20,89.84 463.40,89.73 463.60,91.07 463.80,89.83 464.00,91.50 464.20,90.43 464.40,89.96 464.60,91.03 464.80,91.46 465.00,89.78 465.20,91.47 465.40,90.50 465.60,91.51 465.80,90.52 466.00,89.90 466.20,91.09 466.40,91.36 466.60,92.04 466.80,91.87 467.00,91.33 467.20,90.85 467.40,90.73 467.60,90.88 467.80,90.62 468.00,90.95 468.20,89.73 468.40,91.26 468.60,91.17 468.80,92.62 469.00,91.65 469.20,91.00 469.40,91.60 469.60,90.63 469.80,91.00 470.00,90.97 470.20,91.51 470.40,91.30 470.60,91.19 470.80,91.46 471.00,91.74 471.20,92.40 471.40,92.65 471.60,92.09 471.80,91.38 472.00,92.38 472.20,91.92 472.40,91.09 472.60,92.98 472.80,91.34 473.00,92.01 473.20,92.07 473.40,92.77 473.60,92.09 473.80,93.80 474.00,90.73 474.20,90.48 474.40,91.44 474.60,92.08 474.80,91.90 475.00,90.95 475.20,91.47 475.40,92.09 475.60,91.85 475.80,92.41 476.00,91.90 476.20,92.77 476.40,92.34 476.60,91.86 476.80,91.63 477.00,91.27 477.20,91.43 477.40,91.51 477.60,91.48 477.80,90.99 478.00,91.57 478.20,90.59 478.40,92.39 478.60,91.55 478.80,90.34 479.00,91.11 479.20,90.90 479.40,90.52 479.60,91.25 479.80,90.55 480.00,90.37 480.20,91.53 480.40,91.03 480.60,91.40 480.80,91.03 481.00,91.06 481.20,90.69 481.40,90.90 481.60,90.98 481.80,90.72 482.00,91.79 482.20,90.47 482.40,90.39 482.60,90.73 482.80,91.67 483.00,91.95 483.20,91.15 483.40,90.80 483.60,91.35 483.80,91.93 484.00,90.52 484.20,91.45 484.40,91.58 484.60,90.96 484.80,90.15 485.00,91.41 485.20,90.50 485.40,90.99 485.60,91.35 485.80,93.53 486.00,90.26 486.20,89.67 486.40,91.44 486.60,93.32 486.80,89.29 487.00,91.74 487.20,88.82 487.40,91.58 487.60,90.18 487.80,91.87 488.00,91.23 488.20,91.90 488.40,90.94 488.60,89.77 488.80,90.62 489.00,91.02 489.20,90.52 489.40,90.71 489.60,91.72 489.80,91.50 490.00,92.70 490.20,91.64 490.40,91.74 490.60,92.22 490.80,92.94 491.00,91.87 491.20,88.94 491.40,91.59 491.60,88.77 491.80,91.95 492.00,89.50 492.20,91.79 492.40,90.39 492.60,93.08 492.80,89.87 493.00,92.15 493.20,92.32 493.40,91.06 493.60,91.97 493.80,91.27 494.00,90.99 494.20,90.99 494.40,87.70 494.60,92.27 494.80,89.46 495.00,90.66 495.20,89.67 495.40,92.92 495.60,91.86 495.80,91.71 496.00,92.03 496.20,93.00 496.40,92.17 496.60,91.85 496.80,91.23 497.00,91.88 497.20,96.57 497.40,92.04 497.60,91.79 497.80,93.83 498.00,88.93 498.20,89.12 498.40,93.04 498.60,94.80 498.80,88.79 499.00,87.76 499.20,86.49 499.40,92.15 499.60,90.13 499.80,92.12 500.00,92.50 500.20,87.02 500.40,93.88 500.60,90.98 500.80,92.13 501.00,91.47 501.20,91.43 501.40,91.66 501.60,84.71 501.80,91.76 502.00,91.04 502.20,91.49 502.40,90.29 502.60,91.39 502.80,92.78 503.00,97.31 503.20,90.55 503.40,94.07 503.60,92.41 503.80,89.45 504.00,86.36 504.20,94.33 504.40,90.75 504.60,89.46 504.80,92.58 505.00,92.84 505.20,94.54 505.40,91.95 505.60,91.15 505.80,91.18 506.00,90.42 506.20,92.46 506.40,95.61 506.60,88.85 506.80,91.45 507.00,91.28 507.20,88.67 507.40,92.24 507.60,97.86 507.80,90.80 508.00,92.93 508.20,94.75 508.40,90.72 508.60,95.15 508.80,93.08 509.00,92.45 509.20,90.06 509.40,90.71 509.60,88.82 509.80,94.76 510.00,93.62 510.20,88.46 510.40,91.92 510.60,90.16 510.80,93.27 511.00,92.11 511.20,96.13 511.40,92.99 511.60,88.63 511.80,91.22 512.00,92.14 512.20,95.29 512.40,91.21 512.60,89.82 512.80,90.65 513.00,90.38 513.20,89.39 513.40,91.04 513.60,90.37 513.80,91.87 514.00,95.10 514.20,96.89 514.40,89.40 514.60,92.16 514.80,92.76 515.00,89.28 515.20,91.99 515.40,89.86 515.60,91.16 515.80,90.91 516.00,94.07 516.20,90.19 516.40,92.07 516.60,92.31 516.80,90.95 517.00,96.34 517.20,90.97 517.40,90.93 517.60,93.04 517.80,91.87 518.00,93.32 518.20,89.17 518.40,89.09 518.60,93.47 518.80,91.37 519.00,94.96 519.20,90.16 519.40,90.23" fill="none" stroke="#ff0000" stroke-width="1.05" stroke-linejoin="round"/>
<path d="M45.80,248.52 45.94,203.69 46.08,205.17 46.22,225.52 46.36,226.98 46.50,255.28 46.64,221.30 46.78,238.58 46.92,220.13 47.06,210.88 47.20,206.88 47.34,239.91 47.48,217.92 47.62,209.43 47.76,239.15 47.90,244.20 48.04,235.31 48.18,238.83 48.32,259.79 48.46,201.41 48.60,223.31 48.74,239.42 48.88,238.62 49.02,218.65 49.16,197.75 49.30,202.28 49.44,239.18 49.58,275.00 49.72,251.91 49.86,232.61 50.00,241.58 50.14,235.61 50.28,212.49 50.42,275.00 50.56,275.00 50.70,209.79 50.84,220.46 50.98,228.67 51.12,248.12 51.26,243.63 51.40,232.10 51.54,275.00 51.68,237.44 51.82,205.91 51.96,235.46 52.10,222.41 52.24,203.63 52.38,234.53 52.52,244.79 52.66,211.64 52.80,235.19 52.94,240.37 53.08,204.71 53.22,231.68 53.36,203.11 53.50,205.52 53.64,275.00 53.78,223.24 53.92,209.21 54.06,233.39 54.20,216.07 54.34,219.11 54.48,211.66 54.62,249.48 54.76,217.26 54.90,208.51 55.04,235.84 55.18,201.75 55.32,222.87 55.46,221.71 55.60,210.02 55.74,204.82 55.88,220.32 56.02,212.24 56.16,275.00 56.30,221.00 56.44,212.72 56.58,246.54 56.72,225.39 56.86,210.97 57.00,203.39 57.14,212.15 57.28,232.03 57.42,199.63 57.56,194.03 57.70,202.45 57.84,233.87 57.98,205.64 58.12,214.99 58.26,214.09 58.40,220.72 58.54,199.26 58.68,224.21 58.82,199.20 58.96,214.90 59.10,214.75 59.24,211.97 59.38,227.14 59.52,229.21 59.66,213.68 59.80,235.70 59.94,213.69 60.08,204.57 60.22,209.70 60.36,206.37 60.50,201.32 60.64,236.14 60.78,203.67 60.92,204.60 61.06,220.58 61.20,206.24 61.34,212.27 61.48,206.18 61.62,199.12 61.76,213.19 61.90,208.79 62.04,207.86 62.18,225.01 62.32,210.69 62.46,194.67 62.60,213.17 62.74,219.13 62.88,206.11 63.02,200.69 63.16,219.10 63.30,194.68 63.44,208.44 63.58,207.07 63.72,232.50 63.86,210.89 64.00,196.61 64.14,207.22 64.28,193.65 64.42,215.29 64.56,206.94 64.70,208.84 64.84,215.00 64.98,229.28 65.12,233.89 65.26,215.80 65.40,201.40 65.54,217.24 65.68,213.60 65.82,200.77 65.96,208.52 66.10,206.21 66.24,199.19 66.38,205.86 66.52,202.11 66.66,205.48 66.80,201.45 66.94,202.58 67.08,207.02 67.22,207.87 67.36,197.46 67.50,206.16 67.64,218.92 67.78,197.95 67.92,207.62 68.06,199.84 68.20,202.00 68.34,200.23 68.48,201.35 68.62,206.84 68.76,202.53 68.90,223.52 69.04,202.00 69.18,200.53 69.32,206.80 69.46,200.62 69.60,204.36 69.74,205.86 69.88,208.49 70.02,196.26 70.16,220.47 70.30,201.68 70.44,203.54 70.58,195.77 70.72,197.97 70.86,198.14 71.00,194.16 71.14,201.18 71.28,196.67 71.42,199.78 71.56,196.83 71.70,207.74 71.84,203.54 71.98,203.40 72.12,198.59 72.26,200.00 72.40,194.23 72.54,200.59 72.68,201.92 72.82,198.02 72.96,199.83 73.10,199.69 73.24,204.20 73.38,202.84 73.52,194.31 73.66,197.81 73.80,201.78 73.94,206.72 74.08,194.52 74.22,196.28 74.36,215.48 74.50,194.49 74.64,201.90 74.78,202.05 74.92,214.21 75.06,195.44 75.20,202.00 75.34,198.01 75.48,200.07 75.62,199.21 75.76,202.09 75.90,193.99 76.04,192.05 76.18,192.62 76.32,195.17 76.46,206.32 76.60,200.84 76.74,202.93 76.88,190.30 77.02,196.14 77.16,193.05 77.30,193.01 77.44,198.26 77.58,201.37 77.72,194.69 77.86,203.10 78.00,196.57 78.14,192.04 78.28,196.42 78.42,196.57 78.56,192.03 78.70,194.19 78.84,210.80 78.98,197.96 79.12,192.19 79.26,198.10 79.40,197.27 79.54,191.33 79.68,193.62 79.82,194.89 79.96,202.34 80.10,199.68 80.24,198.64 80.38,196.82 80.52,193.48 80.66,191.92 80.80,187.05 80.94,192.41 81.08,188.10 81.22,203.60 81.36,193.49 81.50,195.51 81.64,194.44 81.78,195.48 81.92,198.37 82.06,191.55 82.20,191.75 82.34,191.43 82.48,205.74 82.62,189.50 82.76,191.12 82.90,194.66 83.04,196.33 83.18,194.68 83.32,199.39 83.46,199.71 83.60,195.04 83.74,196.79 83.88,189.60 84.02,198.71 84.16,201.50 84.30,191.41 84.44,191.41 84.58,201.92 84.72,183.78 84.86,183.26 85.00,193.69 85.14,194.17 85.28,194.71 85.42,194.34 85.56,194.43 85.70,192.59 85.84,194.61 85.98,188.80 86.12,199.15 86.26,182.44 86.40,193.87 86.54,191.39 86.68,193.57 86.82,190.51 86.96,191.02 87.10,190.83 87.24,188.87 87.38,193.71 87.52,196.68 87.66,191.85 87.80,188.84 87.94,204.83 88.08,191.13 88.22,185.75 88.36,194.97 88.50,187.56 88.64,188.52 88.78,190.28 88.92,189.68 89.06,191.82 89.20,195.95 89.34,195.74 89.48,191.22 89.62,193.14 89.76,195.40 89.90,185.08 90.04,196.19 90.18,196.46 90.32,195.88 90.46,194.09 90.60,195.13 90.74,187.20 90.88,186.96 91.02,201.75 91.16,197.19 91.30,192.15 91.44,193.61 91.58,189.78 91.72,190.37 91.86,198.00 92.00,197.90 92.14,189.60 92.28,198.01 92.42,191.11 92.56,194.61 92.70,198.61 92.84,191.59 92.98,190.07 93.12,197.90 93.26,193.92 93.40,197.02 93.54,189.93 93.68,193.91 93.82,194.68 93.96,194.21 94.10,192.28 94.24,187.60 94.38,190.30 94.52,193.28 94.66,199.82 94.80,186.33 94.94,190.50 95.08,192.78 95.22,187.74 95.36,193.43 95.50,186.21 95.64,192.28 95.78,194.70 95.92,194.32 96.06,184.80 96.20,190.06 96.34,189.40 96.48,188.80 96.62,186.67 96.76,188.66 96.90,190.24 97.04,190.75 97.18,188.34 97.32,194.14 97.46,187.15 97.60,187.82 97.74,187.28 97.88,193.33 98.02,191.68 98.16,191.97 98.30,189.72 98.44,186.08 98.58,191.62 98.72,190.90 98.86,190.88 99.00,191.69 99.14,184.42 99.28,184.08 99.42,184.29 99.56,194.87 99.70,182.73 99.84,184.06 99.98,183.85 100.12,189.38 100.26,179.82 100.40,185.67 100.54,191.50 100.68,196.12 100.82,191.24 100.96,187.79 101.10,191.92 101.24,183.48 101.38,185.47 101.52,188.96 101.66,191.71 101.80,192.12 101.94,184.12 102.08,180.80 102.22,189.39 102.36,190.56 102.50,193.95 102.64,190.22 102.78,192.53 102.92,185.55 103.06,187.90 103.20,190.63 103.34,189.11 103.48,187.06 103.62,187.71 103.76,187.82 103.90,189.95 104.04,183.37 104.18,191.95 104.32,192.63 104.46,187.26 104.60,184.50 104.74,186.75 104.88,192.49 105.02,181.21 105.16,182.98 105.30,181.66 105.44,187.56 105.58,189.58 105.72,190.81 105.86,180.85 106.00,182.28 106.14,182.09 106.28,180.21 106.42,190.02 106.56,180.57 106.70,185.34 106.84,184.28 106.98,185.59 107.12,182.61 107.26,181.41 107.40,184.39 107.54,181.65 107.68,182.34 107.82,180.12 107.96,183.07 108.10,185.01 108.24,178.47 108.38,181.29 108.52,171.87 108.66,182.20 108.80,180.74 108.94,180.92 109.08,177.89 109.22,188.39 109.36,179.63 109.50,180.24 109.64,188.06 109.78,177.32 109.92,186.56 110.06,177.83 110.20,178.43 110.34,178.65 110.48,182.45 110.62,175.62 110.76,181.53 110.90,175.62 111.04,175.64 111.18,175.17 111.32,173.71 111.46,175.55 111.60,172.94 111.74,178.07 111.88,174.76 112.02,174.32 112.16,173.65 112.30,172.99 112.44,173.97 112.58,175.77 112.72,174.37 112.86,174.11 113.00,174.96 113.14,174.45 113.28,176.79 113.42,173.12 113.56,172.79 113.70,173.94 113.84,173.42 113.98,170.62 114.12,171.52 114.26,173.13 114.40,170.78 114.54,177.70 114.68,174.96 114.82,178.09 114.96,170.23 115.10,176.51 115.24,170.36 115.38,169.37 115.52,171.72 115.66,168.62 115.80,172.35 115.94,168.38 116.08,168.54 116.22,169.02 116.36,167.00 116.50,168.25 116.64,168.04 116.78,167.04 116.92,172.28 117.06,166.42 117.20,166.88 117.34,168.86 117.48,168.01 117.62,166.67 117.76,166.30 117.90,166.76 118.04,166.08 118.18,167.57 118.32,167.35 118.46,165.54 118.60,164.77 118.74,166.33 118.88,166.28 119.02,164.99 119.16,163.60 119.30,165.03 119.44,164.52 119.58,164.16 119.72,166.83 119.86,163.90 120.00,163.51 120.14,161.74 120.28,161.57 120.42,162.86 120.56,162.33 120.70,162.91 120.84,161.57 120.98,163.70 121.12,160.48 121.26,164.08 121.40,159.90 121.54,160.63 121.68,159.34 121.82,159.62 121.96,159.14 122.10,158.28 122.24,159.89 122.38,158.29 122.52,157.97 122.66,157.05 122.80,156.03 122.94,156.13 123.08,157.61 123.22,156.48 123.36,155.12 123.50,156.06 123.64,155.06 123.78,154.63 123.92,154.02 124.06,153.98 124.20,153.87 124.34,152.91 124.48,152.93 124.62,151.32 124.76,149.88 124.90,149.82 125.04,148.74 125.18,144.07 125.32,146.41 125.46,148.42 125.60,146.00 125.74,146.02 125.88,144.97" fill="none" stroke="#70b050" stroke-opacity="0.88" stroke-width="0.85" stroke-linejoin="round"/>
<path d="M125.88,144.97 126.00,141.81 126.20,141.01 126.40,140.07 126.60,139.18 126.80,138.55 127.00,137.72 127.20,137.21 127.40,136.74 127.60,135.66 127.80,134.94 128.00,134.50 128.20,133.86 128.40,133.24 128.60,132.53 128.80,132.28 129.00,132.08 129.20,131.40 129.40,131.33 129.60,130.79 129.80,130.68 130.00,130.36 130.20,130.48 130.40,130.09 130.60,130.25 130.80,130.10 131.00,129.94 131.20,129.42 131.40,129.79 131.60,129.91 131.80,130.00 132.00,129.77 132.20,130.10 132.40,130.15 132.60,130.35 132.80,130.92 133.00,130.74 133.20,131.10 133.40,131.49 133.60,131.41 133.80,131.71 134.00,131.95 134.20,132.12 134.40,132.02 134.60,132.42 134.80,132.80 135.00,132.35 135.20,132.97 135.40,132.96 135.60,132.95 135.80,133.61 136.00,133.50 136.20,133.23 136.40,133.60 136.60,133.81 136.80,133.75 137.00,134.00 137.20,133.92 137.40,134.11 137.60,134.28 137.80,133.86 138.00,134.01 138.20,133.82 138.40,133.86 138.60,133.50 138.80,133.50 139.00,133.45 139.20,133.52 139.40,133.40 139.60,132.74 139.80,132.66 140.00,132.77 140.20,132.05 140.40,132.17 140.60,132.05 140.80,132.14 141.00,131.85 141.20,131.44 141.40,131.22 141.60,131.01 141.80,131.11 142.00,130.46 142.20,130.22 142.40,130.08 142.60,129.70 142.80,129.41 143.00,128.95 143.20,128.90 143.40,128.54 143.60,128.61 143.80,128.26 144.00,127.90 144.20,127.81 144.40,127.38 144.60,127.43 144.80,127.00 145.00,126.89 145.20,126.29 145.40,126.40 145.60,125.78 145.80,125.50 146.00,125.65 146.20,125.34 146.40,125.36 146.60,125.60 146.80,124.83 147.00,124.71 147.20,124.74 147.40,124.67 147.60,124.40 147.80,124.27 148.00,124.33 148.20,124.17 148.40,123.74 148.60,123.82 148.80,123.73 149.00,123.41 149.20,123.57 149.40,123.25 149.60,123.52 149.80,123.27 150.00,123.17 150.20,122.96 150.40,122.98 150.60,122.54 150.80,122.65 151.00,122.90 151.20,122.35 151.40,122.91 151.60,122.35 151.80,122.82 152.00,122.47 152.20,122.77 152.40,122.61 152.60,122.26 152.80,122.79 153.00,122.81 153.20,122.49 153.40,122.43 153.60,122.42 153.80,122.24 154.00,122.62 154.20,122.26 154.40,122.33 154.60,122.14 154.80,122.13 155.00,121.94 155.20,122.38 155.40,122.01 155.60,122.12 155.80,121.80 156.00,121.52 156.20,121.43 156.40,121.22 156.60,121.16 156.80,120.90 157.00,120.74 157.20,120.34 157.40,120.26 157.60,120.55 157.80,119.87 158.00,119.56 158.20,119.61 158.40,119.57 158.60,118.74 158.80,118.72 159.00,118.36 159.20,117.85 159.40,118.05 159.60,117.60 159.80,117.30 160.00,116.81 160.20,116.72 160.40,116.16 160.60,115.85 160.80,115.24 161.00,114.78 161.20,114.83 161.40,113.99 161.60,113.66 161.80,113.10 162.00,112.51 162.20,111.99 162.40,111.71 162.60,111.02 162.80,110.55 163.00,110.09 163.20,109.84 163.40,109.26 163.60,108.72 163.80,108.05 164.00,107.41 164.20,107.39 164.40,106.91 164.60,106.20 164.80,105.85 165.00,105.41 165.20,104.93 165.40,104.46 165.60,103.69 165.80,103.59 166.00,102.54 166.20,102.47 166.40,101.90 166.60,101.47 166.80,101.16 167.00,100.57 167.20,99.53 167.40,98.90 167.60,98.88 167.80,97.99 168.00,97.66 168.20,97.31 168.40,96.30 168.60,95.70 168.80,95.66 169.00,95.12 169.20,94.57 169.40,94.14 169.60,93.49 169.80,92.90 170.00,92.71 170.20,92.10 170.40,91.52 170.60,91.52 170.80,90.97 171.00,90.63 171.20,89.93 171.40,89.57 171.60,89.07 171.80,88.67 172.00,88.47 172.20,87.85 172.40,87.65 172.60,87.22 172.80,87.12 173.00,86.01 173.20,86.02 173.40,85.38 173.60,84.95 173.80,84.21 174.00,83.94 174.20,83.72 174.40,83.09 174.60,82.66 174.80,82.11 175.00,81.93 175.20,81.23 175.40,80.32 175.60,80.15 175.80,79.42 176.00,78.70 176.20,78.77 176.40,78.68 176.60,77.96 176.80,77.26 177.00,76.86 177.20,76.82 177.40,76.18 177.60,75.73 177.80,75.27 178.00,74.87 178.20,74.61 178.40,74.14 178.60,73.67 178.80,73.02 179.00,72.93 179.20,72.29 179.40,72.25 179.60,71.39 179.80,71.22 180.00,70.86 180.20,70.20 180.40,70.42 180.60,69.97 180.80,69.18 181.00,69.03 181.20,68.54 181.40,67.53 181.60,67.69 181.80,67.20 182.00,66.80 182.20,66.13 182.40,65.85 182.60,65.42 182.80,65.24 183.00,64.61 183.20,64.08 183.40,63.93 183.60,63.04 183.80,62.61 184.00,61.85 184.20,62.06 184.40,61.47 184.60,60.98 184.80,60.46 185.00,59.88 185.20,59.44 185.40,58.88 185.60,58.42 185.80,58.02 186.00,57.85 186.20,57.21 186.40,56.64 186.60,56.09 186.80,55.63 187.00,55.63 187.20,54.96 187.40,54.43 187.60,53.91 187.80,53.32 188.00,53.09 188.20,52.85 188.40,52.16 188.60,51.77 188.80,51.36 189.00,51.00 189.20,50.25 189.40,50.10 189.60,49.56 189.80,49.49 190.00,48.75 190.20,48.60 190.40,48.38 190.60,47.61 190.80,47.15 191.00,46.91 191.20,46.48 191.40,45.89 191.60,45.80 191.80,45.73 192.00,44.91 192.20,44.56 192.40,44.04 192.60,43.96 192.80,43.31 193.00,43.01 193.20,43.15 193.40,42.39 193.60,42.47 193.80,42.24 194.00,41.68 194.20,41.43 194.40,41.40 194.60,40.67 194.80,40.30 195.00,39.86 195.20,39.85 195.40,39.85 195.60,39.47 195.80,38.81" fill="none" stroke="#6cab4f" stroke-width="0.95" stroke-linejoin="round"/>
<path d="M195.80,38.81 196.00,38.56 196.20,38.36 196.40,38.26 196.60,37.90 196.80,37.72 197.00,37.47 197.20,37.09 197.40,36.89 197.60,36.68 197.80,36.37 198.00,36.23 198.20,36.26 198.40,35.77 198.60,35.42 198.80,34.85 199.00,35.04 199.20,34.36 199.40,34.26 199.60,34.52 199.80,34.30 200.00,33.92 200.20,33.05 200.40,33.49 200.60,33.19 200.80,33.63 201.00,34.21 201.20,33.14 201.40,32.55 201.60,32.23 201.80,32.60 202.00,32.41 202.20,31.84 202.40,32.28 202.60,31.59 202.80,32.49 203.00,32.35 203.20,32.25 203.40,31.44 203.60,31.77 203.80,31.38 204.00,31.16 204.20,31.09 204.40,30.56 204.60,30.40 204.80,31.32 205.00,30.78 205.20,30.86 205.40,31.12 205.60,29.79 205.80,30.12 206.00,30.46 206.20,30.46 206.40,30.03 206.60,30.57 206.80,30.12 207.00,29.41 207.20,29.46 207.40,30.18 207.60,29.97 207.80,28.85 208.00,30.27 208.20,29.90 208.40,30.22 208.60,29.43 208.80,29.47 209.00,29.11 209.20,30.79 209.40,29.62 209.60,30.47 209.80,29.54 210.00,29.99 210.20,29.25 210.40,29.93 210.60,30.66 210.80,29.76 211.00,30.92 211.20,30.71 211.40,30.21 211.60,30.58 211.80,30.72 212.00,31.02 212.20,30.92 212.40,30.92 212.60,31.30 212.80,31.13 213.00,31.18 213.20,31.91 213.40,32.51 213.60,31.61 213.80,32.48 214.00,32.37 214.20,32.40 214.40,33.40 214.60,32.94 214.80,34.00 215.00,33.12 215.20,33.77 215.40,33.61 215.60,33.49 215.80,34.20 216.00,33.97 216.20,34.41 216.40,34.22 216.60,33.84 216.80,34.37 217.00,34.53 217.20,35.03 217.40,34.27 217.60,34.74 217.80,34.06 218.00,35.21 218.20,34.50 218.40,34.25 218.60,35.10 218.80,35.69 219.00,34.57 219.20,34.83 219.40,35.05 219.60,34.94 219.80,35.69 220.00,35.23 220.20,35.34 220.40,36.00 220.60,35.48 220.80,36.11 221.00,35.57 221.20,35.57 221.40,35.39 221.60,37.16 221.80,36.29 222.00,36.65 222.20,36.63 222.40,36.81 222.60,36.86 222.80,37.79 223.00,36.55 223.20,36.39 223.40,36.71 223.60,36.62 223.80,37.60 224.00,37.67 224.20,36.89 224.40,36.72 224.60,37.21 224.80,38.01 225.00,36.13 225.20,37.65 225.40,36.94 225.60,37.91 225.80,36.96 226.00,37.33 226.20,36.79 226.40,37.04 226.60,38.12 226.80,37.88 227.00,37.34 227.20,37.15 227.40,36.70 227.60,37.40 227.80,37.59 228.00,37.59 228.20,37.62 228.40,37.20 228.60,37.72 228.80,37.78 229.00,38.44 229.20,38.75 229.40,37.92 229.60,37.70 229.80,38.08 230.00,37.91 230.20,37.92 230.40,38.31 230.60,37.94 230.80,38.76 231.00,38.52 231.20,38.76 231.40,38.64 231.60,38.47 231.80,38.45 232.00,38.86 232.20,38.80 232.40,39.25 232.60,39.24 232.80,38.72 233.00,39.47 233.20,38.93 233.40,39.36 233.60,39.61 233.80,38.92 234.00,40.00 234.20,40.13 234.40,40.09 234.60,40.07 234.80,40.19 235.00,40.02 235.20,40.43 235.40,40.40 235.60,40.78 235.80,40.28 236.00,41.02 236.20,41.06 236.40,41.02 236.60,40.97 236.80,41.50 237.00,40.58 237.20,41.62 237.40,41.60 237.60,41.70 237.80,41.83 238.00,41.44 238.20,41.70 238.40,42.19 238.60,42.18 238.80,42.16 239.00,41.48 239.20,42.48 239.40,42.86 239.60,42.87 239.80,42.61 240.00,41.90 240.20,43.12 240.40,42.72 240.60,41.75 240.80,43.16 241.00,42.42 241.20,42.61 241.40,43.01 241.60,43.97 241.80,43.34 242.00,43.73 242.20,44.50 242.40,44.53 242.60,43.86 242.80,43.90 243.00,43.53 243.20,43.88 243.40,44.48 243.60,44.55 243.80,44.52 244.00,45.00 244.20,44.30 244.40,44.71 244.60,45.15 244.80,45.17 245.00,45.48 245.20,45.26 245.40,45.03 245.60,45.42 245.80,44.89 246.00,44.69 246.20,45.77 246.40,45.57 246.60,45.82 246.80,45.00 247.00,45.69 247.20,45.66 247.40,45.63 247.60,45.08 247.80,46.03 248.00,46.67 248.20,46.52 248.40,46.16 248.60,46.50 248.80,46.93 249.00,45.43 249.20,46.70 249.40,47.09 249.60,47.23 249.80,47.77 250.00,47.60 250.20,47.32 250.40,47.39 250.60,47.70 250.80,47.18 251.00,47.49 251.20,48.00 251.40,48.56 251.60,47.69 251.80,47.83 252.00,48.02 252.20,48.62 252.40,48.08 252.60,48.84 252.80,47.82 253.00,48.26 253.20,48.33 253.40,48.85 253.60,49.05 253.80,47.98 254.00,48.32 254.20,48.96 254.40,48.58 254.60,48.27 254.80,49.49 255.00,49.32 255.20,49.39 255.40,49.02 255.60,49.76 255.80,49.26 256.00,49.92 256.20,49.08 256.40,49.17 256.60,49.71 256.80,49.36 257.00,50.04 257.20,49.92 257.40,49.44 257.60,49.95 257.80,49.82 258.00,50.44 258.20,49.80 258.40,49.95 258.60,50.74 258.80,51.26 259.00,51.21 259.20,50.39 259.40,50.52 259.60,51.16 259.80,50.47 260.00,50.14 260.20,50.68 260.40,50.88 260.60,50.36 260.80,50.04 261.00,50.19 261.20,51.19 261.40,50.60 261.60,50.93 261.80,51.14 262.00,51.37 262.20,50.99 262.40,51.42 262.60,50.85 262.80,51.13 263.00,50.89 263.20,51.91 263.40,51.44 263.60,51.17 263.80,51.39 264.00,51.50 264.20,51.97 264.40,50.99 264.60,51.29 264.80,51.64 265.00,53.00 265.20,52.34 265.40,51.90 265.60,52.32 265.80,52.98 266.00,52.00 266.20,51.99 266.40,52.75 266.60,52.47 266.80,52.60 267.00,52.12 267.20,53.26 267.40,53.21 267.60,52.74 267.80,52.84 268.00,51.67 268.20,52.92 268.40,52.59 268.60,52.92 268.80,53.08 269.00,52.66 269.20,52.10 269.40,53.07 269.60,52.62 269.80,52.85 270.00,52.77 270.20,52.93 270.40,52.09 270.60,53.73 270.80,53.34 271.00,53.77 271.20,54.20 271.40,53.36 271.60,52.59 271.80,53.04 272.00,52.94 272.20,53.30 272.40,53.61 272.60,52.72 272.80,53.81 273.00,53.02 273.20,53.88 273.40,53.74 273.60,53.69 273.80,53.84 274.00,53.67 274.20,53.68 274.40,53.24 274.60,54.03 274.80,54.91 275.00,55.02 275.20,54.76 275.40,54.53 275.60,53.94 275.80,54.94 276.00,54.31 276.20,54.34 276.40,54.28 276.60,54.49 276.80,54.29 277.00,54.49 277.20,54.08 277.40,54.44 277.60,55.67 277.80,54.65 278.00,54.62 278.20,55.00 278.40,55.12 278.60,54.33 278.80,54.78 279.00,55.32 279.20,55.07 279.40,55.04 279.60,55.72 279.80,54.75 280.00,55.13 280.20,54.89 280.40,55.83 280.60,54.31 280.80,54.92 281.00,55.02 281.20,55.59 281.40,55.59 281.60,55.98 281.80,54.68 282.00,55.75 282.20,55.32 282.40,55.18 282.60,55.75 282.80,55.13 283.00,54.64 283.20,55.44 283.40,54.96 283.60,55.37 283.80,55.86 284.00,55.86 284.20,56.47 284.40,55.69 284.60,55.12 284.80,55.50 285.00,55.46 285.20,55.36 285.40,56.13 285.60,55.68 285.80,55.11 286.00,56.34 286.20,56.01 286.40,56.25 286.60,56.17 286.80,56.44 287.00,56.20 287.20,56.77 287.40,56.44 287.60,56.46 287.80,56.50 288.00,55.69 288.20,56.31 288.40,56.30 288.60,56.55 288.80,55.88 289.00,57.26 289.20,56.60 289.40,56.05 289.60,55.86 289.80,56.54 290.00,56.66 290.20,56.42 290.40,56.82 290.60,56.52 290.80,57.10 291.00,56.56 291.20,56.91 291.40,57.40 291.60,58.16 291.80,56.59 292.00,56.87 292.20,56.74 292.40,57.51 292.60,56.68 292.80,57.01 293.00,57.26 293.20,56.87 293.40,56.92 293.60,57.17 293.80,56.48 294.00,56.81 294.20,57.31 294.40,57.60 294.60,57.49 294.80,56.82 295.00,57.44 295.20,58.05 295.40,57.98 295.60,57.73 295.80,57.40 296.00,58.12 296.20,57.62 296.40,57.39 296.60,57.59 296.80,58.64 297.00,58.12 297.20,58.58 297.40,57.88 297.60,58.55 297.80,57.89 298.00,58.13 298.20,59.35 298.40,58.61 298.60,58.07 298.80,58.29 299.00,58.51 299.20,58.94 299.40,58.21 299.60,57.67 299.80,58.36 300.00,58.52 300.20,58.60 300.40,59.17 300.60,58.75 300.80,59.00 301.00,58.17 301.20,59.09 301.40,59.67 301.60,59.11 301.80,58.91 302.00,58.90 302.20,59.66 302.40,58.48 302.60,58.88 302.80,59.17 303.00,59.34 303.20,58.84 303.40,59.22 303.60,59.00 303.80,59.22 304.00,59.15 304.20,58.74 304.40,59.29 304.60,59.74 304.80,58.96 305.00,59.34 305.20,59.80 305.40,59.07 305.60,59.69 305.80,59.18 306.00,60.23 306.20,60.81 306.40,60.74 306.60,59.79 306.80,60.28 307.00,60.06 307.20,60.11 307.40,60.82 307.60,59.59 307.80,60.72 308.00,60.28 308.20,61.00 308.40,60.51 308.60,60.18 308.80,60.67 309.00,60.93 309.20,60.68 309.40,60.94 309.60,60.54 309.80,59.88 310.00,61.30 310.20,61.27 310.40,61.08 310.60,61.10 310.80,61.59 311.00,60.97 311.20,60.91 311.40,61.19 311.60,61.87 311.80,60.76 312.00,61.97 312.20,61.20 312.40,61.05 312.60,62.16 312.80,61.61 313.00,61.12 313.20,61.59 313.40,62.23 313.60,62.39 313.80,61.72 314.00,62.15 314.20,62.34 314.40,61.78 314.60,62.28 314.80,62.15 315.00,61.98 315.20,62.05 315.40,62.35 315.60,62.39 315.80,62.17 316.00,62.28 316.20,63.02 316.40,62.67 316.60,63.02 316.80,63.21 317.00,62.99 317.20,63.79 317.40,62.45 317.60,63.23 317.80,62.77 318.00,63.80 318.20,63.77 318.40,62.17 318.60,62.66 318.80,63.44 319.00,63.55 319.20,63.57 319.40,63.25 319.60,63.53 319.80,63.67 320.00,63.38 320.20,63.92 320.40,62.49 320.60,63.83 320.80,63.13 321.00,64.07 321.20,63.57 321.40,63.32 321.60,63.93 321.80,63.39 322.00,63.44 322.20,63.18 322.40,63.92 322.60,64.20 322.80,64.47 323.00,63.99 323.20,64.57 323.40,64.15 323.60,64.14 323.80,64.48 324.00,64.74 324.20,64.15 324.40,64.23 324.60,64.31 324.80,64.46 325.00,64.06 325.20,64.96 325.40,64.36 325.60,64.79 325.80,64.25 326.00,64.82 326.20,64.88 326.40,64.55 326.60,65.69 326.80,64.98 327.00,65.65 327.20,65.32 327.40,64.63 327.60,64.80 327.80,65.20 328.00,65.07 328.20,65.10 328.40,64.99 328.60,64.34 328.80,65.09 329.00,64.23 329.20,65.43 329.40,64.97 329.60,65.01 329.80,65.27 330.00,65.53 330.20,64.80 330.40,64.69 330.60,65.03 330.80,64.63 331.00,65.15 331.20,66.34 331.40,65.18 331.60,65.99 331.80,65.11 332.00,65.90 332.20,65.66 332.40,65.82 332.60,66.14 332.80,66.71 333.00,66.05 333.20,66.06 333.40,65.60 333.60,66.34 333.80,66.01 334.00,66.54 334.20,66.18 334.40,67.03 334.60,65.40 334.80,66.20 335.00,66.78 335.20,66.27 335.40,66.11 335.60,66.40 335.80,65.94 336.00,66.66 336.20,67.75 336.40,67.22 336.60,66.25 336.80,66.40 337.00,66.66 337.20,67.34 337.40,66.56 337.60,66.67 337.80,67.42 338.00,67.46 338.20,66.95 338.40,66.66 338.60,66.51 338.80,66.94 339.00,66.29 339.20,67.67 339.40,67.10 339.60,67.64 339.80,68.30 340.00,68.03 340.20,67.02 340.40,67.97 340.60,68.14 340.80,67.32 341.00,67.26 341.20,67.68 341.40,67.04 341.60,68.46 341.80,66.75 342.00,67.37 342.20,67.79 342.40,67.84 342.60,68.05 342.80,68.13 343.00,67.95 343.20,68.59 343.40,67.15 343.60,68.15 343.80,67.86 344.00,68.28 344.20,68.35 344.40,67.87 344.60,68.03 344.80,68.71 345.00,68.54 345.20,68.11 345.40,69.37 345.60,69.52 345.80,67.86 346.00,68.69 346.20,69.71 346.40,68.97 346.60,68.75 346.80,68.59 347.00,68.48 347.20,68.67 347.40,68.56 347.60,69.18 347.80,68.70 348.00,68.73 348.20,68.42 348.40,68.98 348.60,68.64 348.80,69.00 349.00,69.59 349.20,69.32 349.40,69.42 349.60,69.38 349.80,69.28 350.00,69.22 350.20,69.17 350.40,69.67 350.60,68.86 350.80,69.97 351.00,69.40 351.20,69.06 351.40,69.18 351.60,69.11 351.80,69.49 352.00,69.10 352.20,69.95 352.40,69.09 352.60,68.42 352.80,69.12 353.00,68.55 353.20,69.44 353.40,69.94 353.60,69.76 353.80,68.87 354.00,69.14 354.20,70.28 354.40,69.63 354.60,69.49 354.80,69.97 355.00,70.60 355.20,70.08 355.40,69.56 355.60,69.66 355.80,69.78 356.00,69.22 356.20,69.02 356.40,69.50 356.60,69.03 356.80,69.39 357.00,69.42 357.20,70.38 357.40,68.89 357.60,69.16 357.80,69.07 358.00,69.27 358.20,69.47 358.40,68.70 358.60,68.48 358.80,68.03 359.00,68.27 359.20,68.85 359.40,68.55 359.60,67.99 359.80,68.20 360.00,68.31 360.20,68.46 360.40,67.90 360.60,67.99 360.80,67.23 361.00,67.46 361.20,68.65 361.40,66.88 361.60,67.65 361.80,67.84 362.00,67.51 362.20,67.25 362.40,67.53 362.60,67.49 362.80,67.40 363.00,66.53 363.20,67.25 363.40,66.86 363.60,66.94 363.80,67.22 364.00,67.35 364.20,67.39 364.40,66.70 364.60,67.27 364.80,67.32 365.00,67.23 365.20,67.27 365.40,66.51 365.60,66.42 365.80,66.79 366.00,65.73 366.20,66.36 366.40,65.94 366.60,65.93 366.80,65.23 367.00,65.52 367.20,65.81 367.40,66.11 367.60,66.05 367.80,65.46 368.00,65.29 368.20,64.88 368.40,65.32 368.60,64.90 368.80,65.16 369.00,65.55 369.20,64.62 369.40,63.84 369.60,64.00 369.80,63.61 370.00,63.60 370.20,64.61 370.40,64.01 370.60,63.11 370.80,63.98 371.00,64.15 371.20,63.32 371.40,63.08 371.60,63.15 371.80,63.34 372.00,63.42 372.20,63.57 372.40,63.50 372.60,63.40 372.80,63.39 373.00,62.99 373.20,61.92 373.40,62.46 373.60,62.58 373.80,62.19 374.00,62.69 374.20,62.04 374.40,61.71 374.60,62.71 374.80,62.29 375.00,62.03 375.20,62.29 375.40,62.29 375.60,61.92 375.80,60.61 376.00,61.38 376.20,61.44 376.40,61.18 376.60,61.69 376.80,62.12 377.00,61.35 377.20,61.04 377.40,62.45 377.60,61.32 377.80,60.96 378.00,61.61 378.20,61.69 378.40,61.17 378.60,61.83 378.80,61.25 379.00,61.05 379.20,61.53 379.40,61.79 379.60,61.15 379.80,61.58 380.00,61.38 380.20,62.68 380.40,61.08 380.60,62.01 380.80,61.35 381.00,61.31 381.20,61.68 381.40,61.74 381.60,61.89 381.80,61.46 382.00,61.03 382.20,61.04 382.40,61.50 382.60,61.52 382.80,61.87 383.00,61.42 383.20,61.70 383.40,61.90 383.60,61.28 383.80,60.54 384.00,60.67 384.20,60.55 384.40,61.93 384.60,60.88 384.80,61.88 385.00,61.68 385.20,62.30 385.40,62.10 385.60,61.75 385.80,61.85 386.00,62.14 386.20,62.34 386.40,62.18 386.60,62.57 386.80,63.46 387.00,62.12 387.20,63.14 387.40,62.74 387.60,63.33 387.80,63.71 388.00,63.37 388.20,63.80 388.40,62.79 388.60,64.05 388.80,63.33 389.00,63.93 389.20,63.78 389.40,62.58 389.60,63.44 389.80,63.93 390.00,64.57 390.20,64.04 390.40,64.06 390.60,63.34 390.80,64.66 391.00,64.86 391.20,64.08 391.40,64.00 391.60,63.39 391.80,64.54 392.00,65.37 392.20,64.50 392.40,64.75 392.60,64.44 392.80,63.75 393.00,64.80 393.20,63.64 393.40,64.10 393.60,64.31 393.80,64.58 394.00,64.36 394.20,64.33 394.40,63.80 394.60,63.55 394.80,64.14 395.00,63.77 395.20,63.49 395.40,63.49 395.60,63.82 395.80,63.19 396.00,63.40 396.20,63.25 396.40,64.05 396.60,64.14 396.80,64.85 397.00,63.26 397.20,63.61 397.40,64.32 397.60,63.81 397.80,63.75 398.00,64.67 398.20,63.75 398.40,63.38 398.60,63.31 398.80,64.06 399.00,64.05 399.20,63.29 399.40,63.47 399.60,64.16 399.80,64.18 400.00,63.64 400.20,64.22 400.40,64.20 400.60,63.15 400.80,63.81 401.00,64.15 401.20,63.71 401.40,63.01 401.60,63.86 401.80,64.33 402.00,64.71 402.20,63.02 402.40,65.19 402.60,63.52 402.80,64.47 403.00,64.60 403.20,64.49 403.40,64.13 403.60,63.55 403.80,64.36 404.00,63.77 404.20,62.96 404.40,65.38 404.60,64.43 404.80,64.94 405.00,63.73 405.20,64.81 405.40,64.88 405.60,64.88 405.80,64.19 406.00,63.67 406.20,64.15 406.40,63.25 406.60,63.49 406.80,64.32 407.00,63.85 407.20,64.23 407.40,64.27 407.60,65.20 407.80,64.93 408.00,64.34 408.20,64.91 408.40,64.03 408.60,64.24 408.80,64.80 409.00,63.84 409.20,64.27 409.40,63.81 409.60,64.45 409.80,65.13 410.00,64.06 410.20,64.50 410.40,64.00 410.60,63.88 410.80,63.84 411.00,65.05 411.20,65.46 411.40,64.62 411.60,64.08 411.80,64.72 412.00,64.25 412.20,64.76 412.40,64.53 412.60,64.53 412.80,64.67 413.00,64.14 413.20,64.22 413.40,63.63 413.60,64.20 413.80,63.76 414.00,64.33 414.20,63.97 414.40,64.44 414.60,64.59 414.80,63.74 415.00,64.00 415.20,63.93 415.40,64.67 415.60,65.08 415.80,64.68 416.00,64.12 416.20,64.91 416.40,63.55 416.60,64.88 416.80,63.89 417.00,62.91 417.20,65.33 417.40,64.82 417.60,63.62 417.80,64.14 418.00,63.94 418.20,64.06 418.40,63.32 418.60,63.66 418.80,64.16 419.00,64.04 419.20,64.46 419.40,63.94 419.60,64.95 419.80,63.56 420.00,63.99 420.20,63.00 420.40,63.29 420.60,64.44 420.80,63.41 421.00,64.06 421.20,63.79 421.40,63.34 421.60,63.64 421.80,63.56 422.00,63.56 422.20,64.11 422.40,64.06 422.60,63.50 422.80,63.34 423.00,63.87 423.20,63.69 423.40,64.19 423.60,64.92 423.80,64.10 424.00,63.69 424.20,63.63 424.40,63.31 424.60,63.28 424.80,63.23 425.00,63.50 425.20,63.48 425.40,64.00 425.60,63.48 425.80,63.56 426.00,63.09 426.20,64.37 426.40,63.85 426.60,64.42 426.80,63.97 427.00,64.27 427.20,63.48 427.40,63.91 427.60,64.80 427.80,63.02 428.00,64.09 428.20,64.32 428.40,63.73 428.60,63.88 428.80,64.10 429.00,63.21 429.20,63.69 429.40,63.09 429.60,63.17 429.80,63.19 430.00,63.40 430.20,63.52 430.40,63.65 430.60,62.78 430.80,64.33 431.00,63.94 431.20,63.73 431.40,63.22 431.60,63.34 431.80,63.62 432.00,63.55 432.20,62.57 432.40,63.68 432.60,64.67 432.80,62.47 433.00,63.77 433.20,63.47 433.40,63.24 433.60,63.92 433.80,62.73 434.00,63.34 434.20,63.94 434.40,63.16 434.60,63.05 434.80,63.29 435.00,63.03 435.20,63.94 435.40,62.80 435.60,63.62 435.80,62.64 436.00,63.52 436.20,63.16 436.40,62.01 436.60,63.20 436.80,62.71 437.00,62.99 437.20,63.91 437.40,62.68 437.60,62.71 437.80,63.87 438.00,63.25 438.20,63.91 438.40,63.35 438.60,62.79 438.80,63.17 439.00,63.77 439.20,63.64 439.40,63.20 439.60,63.22 439.80,63.15 440.00,62.93 440.20,64.09 440.40,63.20 440.60,62.68 440.80,62.98 441.00,63.54 441.20,63.50 441.40,63.14 441.60,62.89 441.80,63.21 442.00,62.43 442.20,62.60 442.40,63.57 442.60,62.98 442.80,63.37 443.00,63.76 443.20,63.50 443.40,63.21 443.60,64.18 443.80,63.51 444.00,63.04 444.20,63.54 444.40,63.39 444.60,62.80 444.80,63.23 445.00,63.13 445.20,62.30 445.40,63.13 445.60,63.09 445.80,63.02 446.00,62.47 446.20,63.08 446.40,63.24 446.60,63.32 446.80,62.76 447.00,63.59 447.20,62.75 447.40,63.23 447.60,63.95 447.80,63.05 448.00,63.15 448.20,63.90 448.40,63.25 448.60,63.31 448.80,63.57 449.00,63.97 449.20,62.49 449.40,63.15 449.60,63.08 449.80,63.07 450.00,63.20 450.20,63.22 450.40,63.77 450.60,63.24 450.80,63.73 451.00,63.88 451.20,63.37 451.40,63.79 451.60,64.50 451.80,63.91 452.00,63.48 452.20,63.76 452.40,63.38 452.60,63.95 452.80,64.23 453.00,63.47 453.20,63.76 453.40,64.39 453.60,63.66 453.80,63.99 454.00,63.44 454.20,63.55 454.40,63.70 454.60,64.93 454.80,63.78 455.00,63.74 455.20,63.74 455.40,63.93 455.60,64.31 455.80,64.11 456.00,64.96 456.20,64.15 456.40,64.71 456.60,64.20 456.80,64.36 457.00,63.45 457.20,64.05 457.40,64.09 457.60,64.02 457.80,63.18 458.00,64.55 458.20,63.99 458.40,63.98 458.60,64.08 458.80,64.10 459.00,64.40 459.20,63.65 459.40,63.82 459.60,64.38 459.80,64.33 460.00,64.10 460.20,64.02 460.40,63.92 460.60,64.28 460.80,64.85 461.00,63.85 461.20,65.02 461.40,64.73 461.60,64.16 461.80,64.72 462.00,63.72 462.20,63.62 462.40,63.83 462.60,64.23 462.80,64.28 463.00,64.21 463.20,64.49 463.40,63.50 463.60,64.69 463.80,63.84 464.00,64.19 464.20,64.31 464.40,63.98 464.60,63.89 464.80,64.07 465.00,64.52 465.20,64.80 465.40,64.80 465.60,64.11 465.80,64.20 466.00,64.15 466.20,64.78 466.40,63.67 466.60,65.15 466.80,64.38 467.00,64.26 467.20,64.77 467.40,65.09 467.60,64.79 467.80,65.12 468.00,64.72 468.20,65.22 468.40,65.23 468.60,64.64 468.80,65.34 469.00,64.78 469.20,64.75 469.40,64.31 469.60,64.61 469.80,65.10 470.00,64.17 470.20,65.06 470.40,64.94 470.60,64.92 470.80,63.82 471.00,64.78 471.20,65.13 471.40,64.51 471.60,64.91 471.80,63.81 472.00,65.20 472.20,64.62 472.40,65.33 472.60,64.13 472.80,65.30 473.00,64.90 473.20,65.40 473.40,64.65 473.60,64.82 473.80,66.14 474.00,64.79 474.20,64.88 474.40,65.11 474.60,64.81 474.80,65.84 475.00,66.12 475.20,65.06 475.40,64.63 475.60,65.97 475.80,65.98 476.00,65.89 476.20,66.07 476.40,65.19 476.60,65.54 476.80,65.03 477.00,65.04 477.20,66.16 477.40,65.44 477.60,66.81 477.80,65.85 478.00,65.56 478.20,66.24 478.40,66.73 478.60,66.17 478.80,65.44 479.00,66.19 479.20,66.67 479.40,65.87 479.60,65.78 479.80,66.62 480.00,66.26 480.20,65.73 480.40,66.09 480.60,65.96 480.80,66.47 481.00,66.42 481.20,66.92 481.40,66.75 481.60,65.77 481.80,66.69 482.00,66.94 482.20,66.78 482.40,67.07 482.60,66.39 482.80,66.24 483.00,67.12 483.20,66.25 483.40,65.79 483.60,67.26 483.80,66.50 484.00,66.72 484.20,66.26 484.40,66.32 484.60,66.42 484.80,66.81 485.00,67.17 485.20,65.99 485.40,67.39 485.60,66.55 485.80,66.63 486.00,67.44 486.20,67.13 486.40,66.49 486.60,68.04 486.80,66.85 487.00,67.37 487.20,67.38 487.40,67.94 487.60,67.13 487.80,67.81 488.00,67.05 488.20,67.91 488.40,67.09 488.60,67.29 488.80,68.33 489.00,67.64 489.20,67.57 489.40,68.55 489.60,67.73 489.80,67.22 490.00,67.94 490.20,67.10 490.40,68.16 490.60,68.22 490.80,67.44 491.00,67.44 491.20,67.83 491.40,67.77 491.60,67.35 491.80,68.07 492.00,66.92 492.20,67.66 492.40,67.70 492.60,67.78 492.80,68.06 493.00,67.39 493.20,68.23 493.40,67.91 493.60,67.72 493.80,67.42 494.00,67.52 494.20,68.24 494.40,67.67 494.60,68.15 494.80,68.62 495.00,68.63 495.20,68.89 495.40,68.07 495.60,67.74 495.80,68.71 496.00,68.41 496.20,68.80 496.40,68.32 496.60,68.87 496.80,68.73 497.00,68.69 497.20,68.62 497.40,68.59 497.60,68.54 497.80,68.56 498.00,68.92 498.20,68.27 498.40,69.30 498.60,68.49 498.80,69.00 499.00,68.54 499.20,68.49 499.40,69.53 499.60,68.50 499.80,68.09 500.00,68.36 500.20,68.56 500.40,69.70 500.60,68.84 500.80,69.19 501.00,68.34 501.20,68.97 501.40,69.14 501.60,69.67 501.80,68.56 502.00,69.17 502.20,69.06 502.40,68.49 502.60,68.96 502.80,68.87 503.00,67.97 503.20,69.31 503.40,69.31 503.60,68.89 503.80,68.51 504.00,69.81 504.20,69.28 504.40,69.65 504.60,69.85 504.80,69.01 505.00,69.63 505.20,69.18 505.40,69.29 505.60,69.30 505.80,69.37 506.00,69.90 506.20,69.48 506.40,69.38 506.60,69.35 506.80,69.65 507.00,69.12 507.20,69.32 507.40,69.55 507.60,69.34 507.80,69.56 508.00,69.37 508.20,70.57 508.40,70.29 508.60,69.91 508.80,69.71 509.00,70.74 509.20,69.92 509.40,69.76 509.60,69.96 509.80,69.98 510.00,70.50 510.20,69.87 510.40,70.84 510.60,69.52 510.80,70.25 511.00,69.50 511.20,70.79 511.40,69.84 511.60,69.98 511.80,70.44 512.00,70.61 512.20,69.56 512.40,69.93 512.60,69.47 512.80,70.18 513.00,70.09 513.20,69.99 513.40,69.86 513.60,70.01 513.80,69.87 514.00,70.46 514.20,70.92 514.40,69.38 514.60,70.21 514.80,70.09 515.00,70.52 515.20,69.89 515.40,70.26 515.60,69.88 515.80,70.67 516.00,70.42 516.20,70.32 516.40,70.57 516.60,70.31 516.80,69.73 517.00,70.71 517.20,70.59 517.40,70.40 517.60,70.93 517.80,71.05 518.00,70.02 518.20,70.17 518.40,71.23 518.60,71.19 518.80,70.23 519.00,70.04 519.20,70.30 519.40,70.37" fill="none" stroke="#6cab4f" stroke-width="1.1" stroke-linejoin="round"/>
<path d="M45,11.4 H519.5 V275.2" fill="none" stroke="#000" stroke-width="1.6"/>
<line x1="45.9" y1="10.8" x2="45.9" y2="275.9" stroke="#505050" stroke-width="1.7"/>
<line x1="45" y1="275.2" x2="520.3" y2="275.2" stroke="#484848" stroke-width="1.6"/>
<line x1="78" y1="57.6" x2="97" y2="57.6" stroke="#ffa0a8" stroke-width="1.3"/>
<line x1="78" y1="84.8" x2="97" y2="84.8" stroke="#bde0ae" stroke-width="1.4"/>
<text class="lg" x="99" y="60.4">LP11</text>
<text class="lg" x="99" y="87.5">LP01</text>
<!-- arrows -->
<line x1="279.7" y1="64" x2="279.7" y2="113.8" stroke="#000" stroke-width="1.4"/>
<polygon points="279.5,56 275,65.5 284,65.5" fill="#000"/>
<line x1="409.1" y1="99" x2="409.1" y2="113.2" stroke="#000" stroke-width="1.4"/>
<polygon points="409,91 404.8,100 413.5,100" fill="#000"/>
<!-- inset 1 -->
<g>
<rect x="232.5" y="115" width="100" height="80.5" fill="#28183b"/>
<rect x="232.5" y="115" width="100" height="80.5" filter="url(#nz)"/>
<rect x="232.5" y="115" width="100" height="1.6" fill="#1c0a2a" opacity="0.8"/>
<rect x="232.5" y="115" width="4.6" height="80.5" fill="url(#gb)"/>
<rect x="326.8" y="115" width="3.8" height="80.5" fill="url(#gb2)"/>
<rect x="330.6" y="115" width="1.6" height="80.5" fill="url(#cb)"/>
<line x1="237" y1="149.5" x2="326.8" y2="149.5" stroke="#6e6484" stroke-width="0.6"/>
<ellipse cx="265.6" cy="149.4" rx="10.3" ry="11.8" fill="url(#sp1)"/>
<path d="M237.35,135.00 L237.38,135.49 L237.42,135.98 L237.47,136.47 L237.54,136.97 L237.64,137.46 L237.78,137.95 L237.95,138.44 L238.18,138.93 L238.48,139.42 L238.85,139.92 L239.31,140.41 L239.87,140.90 L240.54,141.39 L241.33,141.88 L242.25,142.37 L243.30,142.86 L244.47,143.36 L245.75,143.85 L247.12,144.34 L248.57,144.83 L250.04,145.32 L251.52,145.81 L252.95,146.31 L254.29,146.80 L255.49,147.29 L256.52,147.78 L257.32,148.27 L257.88,148.76 L258.16,149.25 L258.16,149.75 L257.88,150.24 L257.32,150.73 L256.52,151.22 L255.49,151.71 L254.29,152.20 L252.95,152.69 L251.52,153.19 L250.04,153.68 L248.57,154.17 L247.12,154.66 L245.75,155.15 L244.47,155.64 L243.30,156.14 L242.25,156.63 L241.33,157.12 L240.54,157.61 L239.87,158.10 L239.31,158.59 L238.85,159.08 L238.48,159.58 L238.18,160.07 L237.95,160.56 L237.78,161.05 L237.64,161.54 L237.54,162.03 L237.47,162.53 L237.42,163.02 L237.38,163.51 L237.35,164.00" fill="none" stroke="#a098ac" stroke-width="0.7"/>
<path d="M252.00,195.28 L252.47,195.26 L252.95,195.25 L253.42,195.22 L253.90,195.18 L254.37,195.12 L254.85,195.03 L255.32,194.92 L255.80,194.76 L256.27,194.55 L256.75,194.28 L257.22,193.93 L257.69,193.48 L258.17,192.93 L258.64,192.26 L259.12,191.46 L259.59,190.52 L260.07,189.45 L260.54,188.24 L261.02,186.92 L261.49,185.51 L261.97,184.03 L262.44,182.53 L262.92,181.06 L263.39,179.66 L263.86,178.39 L264.34,177.30 L264.81,176.44 L265.29,175.84 L265.76,175.54 L266.24,175.54 L266.71,175.84 L267.19,176.44 L267.66,177.30 L268.14,178.39 L268.61,179.66 L269.08,181.06 L269.56,182.53 L270.03,184.03 L270.51,185.51 L270.98,186.92 L271.46,188.24 L271.93,189.45 L272.41,190.52 L272.88,191.46 L273.36,192.26 L273.83,192.93 L274.31,193.48 L274.78,193.93 L275.25,194.28 L275.73,194.55 L276.20,194.76 L276.68,194.92 L277.15,195.03 L277.63,195.12 L278.10,195.18 L278.58,195.22 L279.05,195.25 L279.53,195.26 L280.00,195.28" fill="none" stroke="#a098ac" stroke-width="0.7"/>
</g>
<!-- inset 2 -->
<g>
<rect x="360" y="114.2" width="99.2" height="79.5" fill="#28183b"/>
<rect x="360" y="114.2" width="99.2" height="79.5" filter="url(#nz)"/>
<rect x="360" y="114.2" width="99.2" height="1.6" fill="#1c0a2a" opacity="0.8"/>
<rect x="360" y="114.2" width="4.3" height="79.5" fill="url(#gb)"/>
<rect x="454" y="114.2" width="3.3" height="79.5" fill="url(#gb2)"/>
<rect x="457.3" y="114.2" width="1.9" height="79.5" fill="url(#cb)"/>
<line x1="364.3" y1="162.2" x2="454" y2="162.2" stroke="#6e6484" stroke-width="0.6"/>
<ellipse cx="411.2" cy="162.1" rx="13" ry="14" fill="url(#sp2)"/>
<g filter="url(#bl)">
<ellipse cx="406.6" cy="162" rx="2.4" ry="5.4" fill="url(#lobe)"/>
<ellipse cx="415.8" cy="162" rx="2.4" ry="5.4" fill="url(#lobe)"/>
<ellipse cx="411.2" cy="162.1" rx="1.5" ry="4.2" fill="url(#ctr)"/>
</g>
<path d="M364.65,145.00 L364.69,145.58 L364.75,146.15 L364.84,146.73 L364.99,147.31 L365.20,147.88 L365.49,148.46 L365.90,149.03 L366.44,149.61 L367.13,150.19 L367.99,150.76 L369.01,151.34 L370.18,151.92 L371.48,152.49 L372.83,153.07 L374.19,153.64 L375.46,154.22 L376.57,154.80 L377.43,155.37 L377.99,155.95 L378.20,156.53 L378.07,157.10 L377.61,157.68 L376.90,158.25 L376.01,158.83 L375.05,159.41 L374.13,159.98 L373.36,160.56 L372.81,161.14 L372.55,161.71 L372.60,162.29 L372.97,162.86 L373.61,163.44 L374.44,164.02 L375.39,164.59 L376.33,165.17 L377.17,165.75 L377.80,166.32 L378.15,166.90 L378.17,167.47 L377.83,168.05 L377.17,168.63 L376.21,169.20 L375.04,169.78 L373.72,170.36 L372.36,170.93 L371.02,171.51 L369.76,172.08 L368.64,172.66 L367.67,173.24 L366.87,173.81 L366.23,174.39 L365.74,174.97 L365.38,175.54 L365.11,176.12 L364.93,176.69 L364.81,177.27 L364.73,177.85 L364.67,178.42 L364.64,179.00" fill="none" stroke="#a098ac" stroke-width="0.7"/>
<path d="M398.00,192.67 L398.46,192.59 L398.92,192.47 L399.37,192.28 L399.83,192.01 L400.29,191.63 L400.75,191.12 L401.20,190.45 L401.66,189.61 L402.12,188.58 L402.58,187.38 L403.03,186.02 L403.49,184.55 L403.95,183.04 L404.41,181.57 L404.86,180.23 L405.32,179.11 L405.78,178.29 L406.24,177.85 L406.69,177.80 L407.15,178.15 L407.61,178.86 L408.07,179.86 L408.53,181.06 L408.98,182.34 L409.44,183.60 L409.90,184.72 L410.36,185.62 L410.81,186.21 L411.27,186.46 L411.73,186.34 L412.19,185.86 L412.64,185.06 L413.10,184.01 L413.56,182.78 L414.02,181.50 L414.47,180.26 L414.93,179.18 L415.39,178.36 L415.85,177.88 L416.31,177.78 L416.76,178.10 L417.22,178.79 L417.68,179.81 L418.14,181.09 L418.59,182.53 L419.05,184.04 L419.51,185.53 L419.97,186.93 L420.42,188.19 L420.88,189.28 L421.34,190.18 L421.80,190.91 L422.25,191.47 L422.71,191.89 L423.17,192.20 L423.63,192.41 L424.08,192.55 L424.54,192.65 L425.00,192.71" fill="none" stroke="#a098ac" stroke-width="0.7"/>
</g>
</svg>
</body></html>
